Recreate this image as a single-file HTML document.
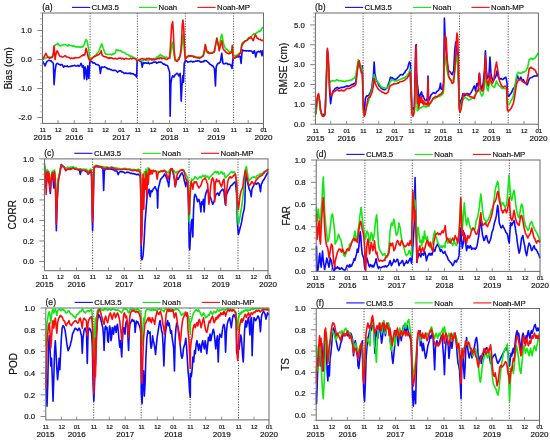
<!DOCTYPE html>
<html><head><meta charset="utf-8"><style>
html,body{margin:0;padding:0;background:#fff;}
svg{display:block;filter:blur(0.3px);}
text{font-family:"Liberation Sans", Arial, sans-serif;fill:#111;stroke:#111;stroke-width:0.18px;}
</style></head><body>
<svg width="550" height="441" viewBox="0 0 550 441">
<rect width="550" height="441" fill="#fff"/>
<g><line x1="90.1" y1="13" x2="90.1" y2="123.4" stroke="#333" stroke-width="0.9" stroke-dasharray="1.1,1.5"/><line x1="137.4" y1="13" x2="137.4" y2="123.4" stroke="#333" stroke-width="0.9" stroke-dasharray="1.1,1.5"/><line x1="185.4" y1="13" x2="185.4" y2="123.4" stroke="#333" stroke-width="0.9" stroke-dasharray="1.1,1.5"/><line x1="233.6" y1="13" x2="233.6" y2="123.4" stroke="#333" stroke-width="0.9" stroke-dasharray="1.1,1.5"/><polyline points="42.8,60.82 43.01,62.66 44.01,63.34 45.02,65.86 46.03,63.41 47.03,61.33 47.87,60.84 48.71,60.39 49.55,60.32 50.39,60.83 51.23,60.8 52.07,62.08 52.7,62.44 53.33,63.34 54.08,84.73 55.09,70.89 56.1,64.6 56.85,63.62 57.61,63.34 58.61,64.26 59.62,64.6 60.46,65.14 61.3,64.49 62.14,64.6 62.77,65.74 63.39,67.12 64.02,66.97 64.65,65.86 65.49,66.24 66.33,66.42 67.17,65.86 68.01,66.69 68.85,66.83 69.69,66.36 70.53,66.53 71.36,66.02 72.2,65.86 73.04,65.85 73.88,65.62 74.72,65.35 75.56,65.9 76.4,65.99 77.24,65.86 78.08,65.24 78.92,66.11 79.75,65.86 80.38,64.84 81.01,63.34 81.64,64.59 82.27,67.12 82.9,65.96 83.53,65.86 84.29,78.95 85.29,67.12 86.05,70.89 86.8,79.7 87.81,65.86 88.82,78.44 89.82,62.08 90.66,61.54 91.5,61.5 92.34,62.08 93.18,63.14 94.02,62.73 94.86,63.34 95.7,64.28 96.53,64.5 97.37,64.6 98.38,65 99.39,65.86 100.39,73.41 101.4,67.12 102.16,66.78 102.91,67.47 103.67,67.12 104.51,66.7 105.34,67.34 106.18,67.87 107.02,68.11 107.86,68.97 108.7,68.88 109.54,69.09 110.38,69.7 111.22,69.63 112.06,70.21 112.9,70.42 113.73,70.39 114.57,70.21 115.41,70.36 116.25,70.89 116.88,71.31 117.51,72.15 118.35,71.56 119.19,70.92 120.03,70.89 120.87,70.85 121.7,71.94 122.54,72.15 123.38,72.5 124.22,73.44 125.06,73.41 125.9,72.9 126.74,73.43 127.58,73.41 128.42,73.37 129.26,73.49 130.09,72.9 130.93,73.9 131.77,73.39 132.61,73.91 133.45,73.73 134.29,74.91 135.13,74.67 135.88,75.79 136.64,77.18 137.14,60.82 138.02,60.22 138.9,60.32 139.74,60.74 140.58,61.33 141.42,62.08 142.18,67.12 143.18,62.84 144.19,63.24 145.2,62.84 146.04,63.08 146.87,63.15 147.71,63.34 148.55,62.65 149.39,63.9 150.23,63.34 150.99,63.3 151.75,63.16 152.52,62.84 153.36,62.17 154.19,62.2 155.03,62.08 155.87,62.08 156.71,63.15 157.55,62.84 158.39,62.03 159.23,62.25 160.07,62.08 160.91,62.09 161.75,62.53 162.58,63.34 163.42,64.36 164.26,63.95 165.1,64.6 165.94,65.31 166.78,65.22 167.62,65.86 168.63,68.89 169.63,72.15 170.14,116.2 170.89,83.48 171.65,78.44 172.65,75.92 173.28,76.1 173.91,77.18 174.54,76.01 175.17,74.67 176.01,74.11 176.85,73.2 177.69,73.41 178.32,75.1 178.95,75.92 179.57,74.85 180.2,73.41 181.21,101.09 181.97,85.99 182.72,75.92 183.48,82.22 184.23,63.34 185.24,60.82 186.08,60.75 186.92,61.25 187.75,62.08 188.59,62.09 189.43,61.74 190.27,61.33 191.11,61.42 191.95,61.52 192.79,62.08 193.63,61.64 194.47,61.59 195.31,61.33 196.14,60.89 196.98,61.28 197.82,60.82 198.66,60.76 199.5,61.15 200.34,62.08 201.18,61.88 202.02,62.03 202.86,61.33 203.7,61.75 204.53,60.46 205.37,60.82 206.21,60.57 207.05,61.47 207.89,62.08 208.73,62.74 209.57,63.92 210.41,64.6 211.25,64.86 212.09,65.8 212.92,65.86 213.68,67.35 214.43,68.37 215.44,85.99 216.2,67.12 217.08,64.65 217.96,63.34 218.8,63.59 219.64,62.46 220.48,62.08 221.1,57.05 221.73,53.27 222.36,58.59 222.99,63.34 223.83,63.92 224.67,63.75 225.51,63.34 226.35,63.22 227.19,63.49 228.03,64.6 228.87,64.1 229.7,64.43 230.54,64.6 231.3,66.23 232.05,68.37 233.06,58.31 233.9,57.77 234.74,57.5 235.58,57.8 236.42,57.17 237.26,56.63 238.09,57.05 239.1,56.35 240.11,56.29 241.12,63.34 242.12,50.25 242.88,49.94 243.63,50.81 244.39,50.75 245.23,50.67 246.07,51.01 246.9,50.75 247.74,50.71 248.58,51.09 249.42,50.75 250.26,50.89 251.1,51.06 251.94,51.26 252.57,52.95 253.2,53.27 253.83,51.42 254.46,50.75 255.08,53.29 255.71,57.05 256.34,54.17 256.97,52.01 257.81,51.68 258.65,51.35 259.49,52.01 260.12,51.58 260.75,50.75 261.38,53.02 262.01,55.79 262.76,50.75 263.2,50.37 263.2,50.75" fill="none" stroke="#0a0aff" stroke-width="1.6" stroke-linejoin="round"/><polyline points="42.8,59.56 42.84,58.84 43.68,59.24 44.52,58.31 45.36,58.06 46.19,58.05 47.03,57.8 47.98,57.51 48.92,56.88 49.87,57.38 50.81,57.05 51.65,56.56 52.49,56.7 53.33,55.79 53.96,50.77 54.58,45.72 55.21,45.08 55.84,44.46 56.72,44.4 57.61,43.2 58.61,44.71 59.62,45.72 60.46,46.02 61.3,45.37 62.14,45.22 62.97,44.92 63.81,44.61 64.65,44.46 65.49,44.68 66.33,44.96 67.17,45.72 68.01,46.08 68.85,44.69 69.69,45.22 70.53,45.48 71.36,45.75 72.2,45.72 73.04,46.38 73.88,45.79 74.72,46.22 75.56,46.87 76.4,46.62 77.24,46.98 78.08,46.7 78.92,47.12 79.75,46.98 80.59,47.38 81.43,46.71 82.27,46.98 82.9,46.78 83.53,45.72 84.16,44.66 84.79,42.7 85.42,41 86.05,39.43 86.68,40.39 87.31,41.95 87.94,45.73 88.56,48.24 89.19,53.73 89.82,59.56 90.66,58.45 91.5,58.99 92.34,57.8 93.18,57.12 94.02,56.89 94.86,55.79 95.7,55.39 96.53,54.36 97.37,53.27 98.21,52.16 99.05,50.52 99.89,48.24 100.77,46.1 101.65,43.71 102.41,45.92 103.16,48.24 104.04,50.51 104.92,53.27 105.76,54.2 106.6,54.15 107.44,54.53 108.28,54.53 109.12,54.39 109.96,54.53 110.8,54.11 111.64,54.82 112.48,54.53 113.31,53.59 114.15,54.03 114.99,53.27 115.62,51.51 116.25,49.5 116.88,50.14 117.51,50.75 118.35,50.09 119.19,50.54 120.03,50.75 120.87,50.63 121.7,51.92 122.54,52.01 123.38,52.31 124.22,52.43 125.06,53.27 125.9,54 126.74,54.17 127.58,54.53 128.42,54.75 129.26,56.04 130.09,55.79 130.93,56.73 131.77,56.12 132.61,57.05 133.45,57.2 134.29,57.82 135.13,58.31 136.14,58.8 137.14,59.56 138.02,59.96 138.9,59.56 139.74,59.51 140.58,60.29 141.42,60.82 142.36,60.47 143.31,60.82 144.25,59.35 145.2,59.56 146.04,60.47 146.87,59.82 147.71,60.82 148.55,60.7 149.39,59.39 150.23,59.56 150.99,59.8 151.75,59.89 152.52,59.06 153.36,58.46 154.19,58.94 155.03,58.31 155.87,58.56 156.71,57.13 157.55,57.05 158.39,56.15 159.23,56.01 160.07,54.53 160.7,55.56 161.33,55.79 161.96,55.35 162.58,56.29 163.42,56.56 164.26,57.02 165.1,57.05 165.94,57.61 166.78,56.97 167.62,57.8 168.63,58.2 169.63,58.31 170.64,53.27 171.39,48.02 172.15,41.95 173.16,48.24 174.16,55.79 175.17,60.82 175.8,60.45 176.43,60.82 177.06,59.98 177.69,59.56 178.69,57.64 179.7,57.05 180.58,54.03 181.46,50.75 182.09,44.16 182.72,36.91 183.48,34.39 184.23,48.24 185.24,58.31 186.08,57.95 186.92,56.83 187.75,57.05 188.59,56.65 189.43,56.04 190.27,55.79 191.11,56.14 191.95,55.5 192.79,56.29 193.63,57.11 194.47,57.29 195.31,57.05 196.14,57.02 196.98,56.94 197.82,57.8 198.66,56.92 199.5,57.2 200.34,57.05 201.18,57.08 202.02,56.4 202.86,56.29 203.49,55.21 204.12,53.27 204.74,50.02 205.37,45.72 206,48.71 206.63,52.01 207.26,52.31 207.89,53.27 208.73,52.81 209.57,53.4 210.41,53.27 211.25,53.19 212.09,52.39 212.92,52.77 213.93,52.32 214.94,50.75 215.82,44.23 216.7,38.17 217.33,40.87 217.96,43.2 218.59,45.92 219.22,48.24 219.85,43.48 220.48,39.43 221.1,36.83 221.73,34.39 222.36,36.87 222.99,40.69 223.62,43.39 224.25,45.72 224.88,47.37 225.51,48.24 226.35,49.33 227.19,49.41 228.03,50.75 228.87,51.3 229.7,51.55 230.54,52.01 231.17,51.17 231.8,50.75 232.56,45.22 233.06,55.79 233.9,55.35 234.74,55.41 235.58,55.79 236.42,55.18 237.26,54.93 238.09,54.53 238.93,53.3 239.77,53.12 240.61,52.01 241.24,47.04 241.87,43.2 242.5,43.12 243.13,41.95 243.97,41.99 244.81,41.61 245.65,40.69 246.48,40.49 247.32,39.32 248.16,38.17 249,37.44 249.84,37.34 250.68,36.91 251.52,36.44 252.36,35.14 253.2,34.39 254.04,33.48 254.87,33.87 255.71,33.64 256.55,32.76 257.39,32.24 258.23,31.88 259.07,30.96 259.91,31.43 260.75,30.62 261.63,28.81 262.51,27.6 263.2,27.29 263.2,28.1" fill="none" stroke="#10e810" stroke-width="1.6" stroke-linejoin="round"/><polyline points="42.8,59.56 43.01,57.72 44.01,57.05 44.89,55.52 45.78,53.27 46.66,54.95 47.54,57.05 48.54,57.43 49.55,58.31 50.39,57.83 51.23,57.77 52.07,57.8 52.7,56.17 53.33,53.27 54.08,45.72 55.09,59.56 55.84,54.53 56.47,52.26 57.1,50.75 57.73,51.97 58.36,53.27 58.99,54.89 59.62,55.79 60.46,56.54 61.3,56.28 62.14,57.05 62.97,56.96 63.81,56.58 64.65,55.79 65.49,55.74 66.33,56.93 67.17,57.05 68.01,57.24 68.85,57.51 69.69,57.8 70.53,58.58 71.36,58.07 72.2,58.31 73.04,58.5 73.88,57.88 74.72,58.31 75.56,57.45 76.4,57.77 77.24,57.8 78.08,57.78 78.92,57.74 79.75,57.05 80.59,56.68 81.43,55.75 82.27,55.79 83.11,54.69 83.95,55.52 84.79,54.53 85.42,51.63 86.05,48.24 86.68,50.18 87.31,53.27 87.94,56.08 88.56,58.31 89.19,59.48 89.82,60.82 90.66,60.59 91.5,58.58 92.34,58.31 93.18,57.33 94.02,56.63 94.86,56.29 95.7,56.24 96.53,55.02 97.37,55.29 98.21,54.84 99.05,54.39 99.89,53.27 100.52,52.64 101.15,50.75 101.78,53.58 102.41,55.79 103.25,56.06 104.09,56.46 104.92,57.05 105.76,56.62 106.6,57.21 107.44,57.8 108.28,58.21 109.12,57.49 109.96,58.31 110.8,57.7 111.64,57.85 112.48,58.31 113.31,58.74 114.15,58.72 114.99,58.31 115.83,58.58 116.67,58.96 117.51,59.06 118.35,58.36 119.19,57.95 120.03,58.31 120.87,57.97 121.7,58.86 122.54,58.31 123.38,58.73 124.22,59.32 125.06,58.81 125.9,58.36 126.74,58.72 127.58,58.81 128.42,59.06 129.26,59 130.09,58.31 130.93,58.28 131.77,58.93 132.61,58.31 133.45,58.24 134.29,58.37 135.13,58.81 136.14,59.48 137.14,60.82 138.15,60.55 139.16,60.03 140.16,59.56 141,58.96 141.84,58.61 142.68,58.81 143.52,58.87 144.36,59.46 145.2,59.31 146.04,59.6 146.87,58.35 147.71,58.81 148.55,58.42 149.39,58.48 150.23,59.06 151.19,58.82 152.15,59.84 153.11,58.99 154.07,60.1 155.03,59.56 155.87,59.14 156.71,58.83 157.55,58.81 158.39,57.97 159.23,58.76 160.07,57.8 160.91,57.53 161.75,58.65 162.58,58.31 163.42,58.26 164.26,58.4 165.1,58.81 165.94,59.17 166.78,59.47 167.62,59.06 168.63,58.25 169.63,57.8 170.64,43.2 171.65,25.58 172.65,21.81 173.41,33.14 174.16,50.75 175.17,59.56 175.8,60.21 176.43,60.82 177.06,61.41 177.69,60.82 178.32,59.58 178.95,59.56 179.57,57.11 180.2,55.79 180.83,49.97 181.46,43.2 182.22,25.58 182.97,20.05 183.73,28.1 184.73,50.75 185.24,59.56 186.08,58.1 186.92,57.06 187.75,56.29 188.59,55.61 189.43,56.25 190.27,55.79 191.11,56.18 191.95,56.04 192.79,56.29 193.63,56.73 194.47,56.31 195.31,57.05 196.14,57.71 196.98,57.56 197.82,57.8 198.66,58.11 199.5,58.43 200.34,57.8 201.18,57.49 202.02,56.63 202.86,55.79 203.49,54.5 204.12,52.01 204.74,48.38 205.37,44.46 206,47.68 206.63,50.75 207.47,51.87 208.31,51.8 209.15,53.27 209.99,52.75 210.83,53.54 211.67,53.27 212.51,53.15 213.34,51.94 214.18,52.01 215.06,47.15 215.95,43.2 216.95,38.17 217.96,43.2 218.59,46.79 219.22,50.75 219.85,48.36 220.48,45.72 221.1,43.17 221.73,40.69 222.36,44.14 222.99,48.24 223.83,49.88 224.67,50.48 225.51,52.01 226.35,52.22 227.19,53.12 228.03,53.27 228.87,53.91 229.7,52.81 230.54,53.27 231.17,52.59 231.8,52.01 232.31,45.72 233.06,58.31 233.9,58.25 234.74,57.44 235.58,57.05 236.42,56.82 237.26,55.71 238.09,55.79 238.93,55.28 239.77,53.55 240.61,53.27 241.24,49.38 241.87,45.72 242.5,44.82 243.13,43.2 243.97,42.75 244.81,40.94 245.65,40.69 246.48,40.63 247.32,40.07 248.16,39.43 249,38.13 249.84,38.26 250.68,36.91 251.52,38.1 252.36,39.11 253.2,40.69 254.2,37.65 255.21,34.39 256.09,35.86 256.97,38.17 257.81,38.29 258.65,39.21 259.49,39.43 260.33,39.15 261.17,40.2 262.01,40.69 263.01,40.09 263.2,40.69" fill="none" stroke="#ff0a0a" stroke-width="1.6" stroke-linejoin="round"/><rect x="42.5" y="13" width="221" height="110.4" fill="none" stroke="#6a6a6a" stroke-width="1"/><line x1="39.9" y1="123.4" x2="42.5" y2="123.4" stroke="#9a9a9a" stroke-width="0.75"/><line x1="37.3" y1="117.59" x2="42.5" y2="117.59" stroke="#808080" stroke-width="1.0"/><line x1="39.9" y1="111.78" x2="42.5" y2="111.78" stroke="#9a9a9a" stroke-width="0.75"/><line x1="39.9" y1="105.97" x2="42.5" y2="105.97" stroke="#9a9a9a" stroke-width="0.75"/><line x1="39.9" y1="100.16" x2="42.5" y2="100.16" stroke="#9a9a9a" stroke-width="0.75"/><line x1="39.9" y1="94.35" x2="42.5" y2="94.35" stroke="#9a9a9a" stroke-width="0.75"/><line x1="37.3" y1="88.54" x2="42.5" y2="88.54" stroke="#808080" stroke-width="1.0"/><line x1="39.9" y1="82.73" x2="42.5" y2="82.73" stroke="#9a9a9a" stroke-width="0.75"/><line x1="39.9" y1="76.92" x2="42.5" y2="76.92" stroke="#9a9a9a" stroke-width="0.75"/><line x1="39.9" y1="71.11" x2="42.5" y2="71.11" stroke="#9a9a9a" stroke-width="0.75"/><line x1="39.9" y1="65.29" x2="42.5" y2="65.29" stroke="#9a9a9a" stroke-width="0.75"/><line x1="37.3" y1="59.48" x2="42.5" y2="59.48" stroke="#808080" stroke-width="1.0"/><line x1="39.9" y1="53.67" x2="42.5" y2="53.67" stroke="#9a9a9a" stroke-width="0.75"/><line x1="39.9" y1="47.86" x2="42.5" y2="47.86" stroke="#9a9a9a" stroke-width="0.75"/><line x1="39.9" y1="42.05" x2="42.5" y2="42.05" stroke="#9a9a9a" stroke-width="0.75"/><line x1="39.9" y1="36.24" x2="42.5" y2="36.24" stroke="#9a9a9a" stroke-width="0.75"/><line x1="37.3" y1="30.43" x2="42.5" y2="30.43" stroke="#808080" stroke-width="1.0"/><line x1="39.9" y1="24.62" x2="42.5" y2="24.62" stroke="#9a9a9a" stroke-width="0.75"/><line x1="39.9" y1="18.81" x2="42.5" y2="18.81" stroke="#9a9a9a" stroke-width="0.75"/><line x1="39.9" y1="13" x2="42.5" y2="13" stroke="#9a9a9a" stroke-width="0.75"/><text x="31.9" y="120.39" text-anchor="end" font-size="7.8">-2.0</text><text x="31.9" y="91.34" text-anchor="end" font-size="7.8">-1.0</text><text x="31.9" y="62.28" text-anchor="end" font-size="7.8">0.0</text><text x="31.9" y="33.23" text-anchor="end" font-size="7.8">1.0</text><line x1="263.5" y1="123.4" x2="263.5" y2="128.9" stroke="#6a6a6a" stroke-width="1"/><line x1="58" y1="120.1" x2="58" y2="123.4" stroke="#808080" stroke-width="0.9"/><line x1="105.3" y1="120.1" x2="105.3" y2="123.4" stroke="#808080" stroke-width="0.9"/><line x1="153" y1="120.1" x2="153" y2="123.4" stroke="#808080" stroke-width="0.9"/><line x1="200.7" y1="120.1" x2="200.7" y2="123.4" stroke="#808080" stroke-width="0.9"/><line x1="248.2" y1="120.1" x2="248.2" y2="123.4" stroke="#808080" stroke-width="0.9"/><line x1="74.3" y1="120.1" x2="74.3" y2="123.4" stroke="#808080" stroke-width="0.9"/><line x1="121.2" y1="120.1" x2="121.2" y2="123.4" stroke="#808080" stroke-width="0.9"/><line x1="169.5" y1="120.1" x2="169.5" y2="123.4" stroke="#808080" stroke-width="0.9"/><line x1="216.3" y1="120.1" x2="216.3" y2="123.4" stroke="#808080" stroke-width="0.9"/><text x="42.8" y="132" text-anchor="middle" font-size="5.9">11</text><text x="58.3" y="132" text-anchor="middle" font-size="5.9">12</text><text x="74.6" y="132" text-anchor="middle" font-size="5.9">01</text><text x="90.4" y="132" text-anchor="middle" font-size="5.9">11</text><text x="105.6" y="132" text-anchor="middle" font-size="5.9">12</text><text x="121.5" y="132" text-anchor="middle" font-size="5.9">01</text><text x="137.7" y="132" text-anchor="middle" font-size="5.9">11</text><text x="153.3" y="132" text-anchor="middle" font-size="5.9">12</text><text x="169.8" y="132" text-anchor="middle" font-size="5.9">01</text><text x="185.7" y="132" text-anchor="middle" font-size="5.9">11</text><text x="201" y="132" text-anchor="middle" font-size="5.9">12</text><text x="216.6" y="132" text-anchor="middle" font-size="5.9">01</text><text x="233.9" y="132" text-anchor="middle" font-size="5.9">11</text><text x="248.5" y="132" text-anchor="middle" font-size="5.9">12</text><text x="263.8" y="132" text-anchor="middle" font-size="5.9">01</text><text x="42.5" y="140.1" text-anchor="middle" font-size="8.1">2015</text><text x="74.3" y="140.1" text-anchor="middle" font-size="8.1">2016</text><text x="121.2" y="140.1" text-anchor="middle" font-size="8.1">2017</text><text x="169.5" y="140.1" text-anchor="middle" font-size="8.1">2018</text><text x="216.3" y="140.1" text-anchor="middle" font-size="8.1">2019</text><text x="263.5" y="140.1" text-anchor="middle" font-size="8.1">2020</text><text transform="translate(12,68.2) rotate(-90)" text-anchor="middle" font-size="10">Bias (cm)</text><text x="42.2" y="10.4" font-size="8.6">(a)</text><line x1="72" y1="7.4" x2="90.2" y2="7.4" stroke="#0a0aff" stroke-width="1.1"/><text x="91.6" y="10.3" font-size="7.8">CLM3.5</text><line x1="138.9" y1="7.4" x2="157.1" y2="7.4" stroke="#10e810" stroke-width="1.1"/><text x="158.5" y="10.3" font-size="7.8">Noah</text><line x1="197.4" y1="7.4" x2="215.6" y2="7.4" stroke="#ff0a0a" stroke-width="1.1"/><text x="217" y="10.3" font-size="7.8">Noah-MP</text></g>
<g><line x1="363.1" y1="13" x2="363.1" y2="124.2" stroke="#333" stroke-width="0.9" stroke-dasharray="1.1,1.5"/><line x1="411.1" y1="13" x2="411.1" y2="124.2" stroke="#333" stroke-width="0.9" stroke-dasharray="1.1,1.5"/><line x1="459.5" y1="13" x2="459.5" y2="124.2" stroke="#333" stroke-width="0.9" stroke-dasharray="1.1,1.5"/><line x1="508.2" y1="13" x2="508.2" y2="124.2" stroke="#333" stroke-width="0.9" stroke-dasharray="1.1,1.5"/><polyline points="315.7,113.68 315.7,110.83 316.26,108.65 316.89,102.74 317.52,97.32 318.52,94.8 319.53,101.09 320.54,109.9 321.54,113.68 322.55,114.94 323.18,114.6 323.81,114.94 324.44,113.96 325.07,112.42 326.07,91.03 326.83,65.86 327.33,50.75 328.09,55.79 328.84,73.41 329.6,91.03 330.61,103.61 331.61,96.06 332.37,94 333.12,91.03 334.13,90.01 335.14,88.51 336.14,88.11 337.15,87.25 338.03,88.09 338.91,88.51 339.75,87.98 340.59,87.7 341.43,87.25 342.27,87.59 343.11,87.34 343.95,87.25 344.78,86.83 345.62,86.41 346.46,85.99 347.3,85.8 348.14,86.43 348.98,85.99 349.82,85.92 350.66,85.15 351.5,84.73 352.34,84.19 353.17,84.39 354.01,83.48 354.89,83.34 355.78,82.22 356.78,73.41 357.54,67.59 358.29,62.08 359.3,64.6 360.31,67.12 360.94,68.54 361.56,69.63 362.32,65.86 363.33,103.61 364.33,113.68 365.34,98.58 365.97,97.05 366.6,96.06 367.23,95.72 367.86,96.06 368.86,95.01 369.87,93.54 370.75,91.26 371.63,88.51 372.51,81.77 373.39,75.92 374.15,62.08 374.9,73.41 375.79,77.64 376.67,80.96 377.51,82.23 378.34,84.08 379.18,85.99 380.02,86.6 380.86,87.93 381.7,88.51 382.54,89.28 383.38,89.42 384.22,89.77 385.06,89.63 385.9,88.62 386.73,88.51 387.57,86.87 388.41,83.88 389.25,82.22 389.88,79.35 390.51,77.18 391.35,78.04 392.19,77.67 393.03,78.44 393.87,78.87 394.7,79.77 395.54,79.7 396.38,78.52 397.22,78.36 398.06,77.18 398.9,76.57 399.74,75.54 400.58,74.67 401.42,74.48 402.26,74.87 403.09,74.67 403.93,73.23 404.77,72.57 405.61,70.89 406.62,69.74 407.63,68.37 408.51,64.76 409.39,62.08 410.39,63.34 411.15,83.48 411.9,106.13 412.53,108.03 413.16,109.9 413.79,108.25 414.42,106.13 415.05,75.44 415.68,45.72 416.18,44.46 416.53,71.61 417.26,83.22 417.98,89.03 418.71,96.28 419.43,100.64 420.16,94.83 420.89,93.38 421.61,91.93 422.34,96.28 423.06,95.56 423.79,97.74 424.51,99.19 425.24,100.38 425.97,100.64 426.69,99.64 427.42,97.74 428,75.97 428.58,100.64 429.59,99.19 430.32,97.04 431.04,94.83 431.77,94.27 432.5,93.38 433.22,92.72 433.95,92.66 434.67,93.31 435.4,93.38 436.12,92.77 436.85,91.2 437.58,91.16 438.3,90.48 439.03,89.32 439.75,87.58 440.48,83.22 441.2,89.03 441.93,89.14 442.66,89.75 443.67,81.77 444.39,18.03 445.14,38.17 446.15,50.75 447.16,63.34 447.91,66.89 448.67,70.89 449.55,71.43 450.43,72.15 451.31,73.57 452.19,74.67 452.95,72.33 453.7,70.89 454.71,50.75 455.71,41.95 456.72,48.24 457.73,63.34 458.73,88.51 459.49,108.65 460.5,101.09 461.13,99.94 461.75,98.58 462.38,96.29 463.01,93.54 463.64,94.98 464.27,96.06 465.11,95.49 465.95,94.64 466.79,93.54 467.63,93.65 468.47,94.18 469.31,94.8 470.14,93.87 470.98,92.58 471.82,91.03 472.45,89.78 473.08,88.51 473.71,86.97 474.34,85.99 474.97,88.55 475.6,91.03 476.23,86.99 476.86,83.48 477.49,85.04 478.12,85.99 478.74,79.61 479.37,73.41 480,79.68 480.63,85.99 481.26,86.89 481.89,88.51 482.52,85.58 483.15,83.48 483.78,76.97 484.41,70.89 485.41,50.75 486.42,70.89 487.43,78.44 488.18,76.9 488.94,75.92 489.95,57.05 490.95,73.41 491.96,78.44 492.71,80.16 493.47,80.96 494.48,78.44 495.23,77.64 495.99,75.92 496.99,70.89 498,75.92 498.75,78.06 499.51,79.7 500.26,78.96 501.02,78.44 501.77,78.97 502.53,79.7 503.29,79.18 504.04,78.44 504.92,77.6 505.8,77.18 506.43,80.02 507.06,83.48 507.82,96.06 508.45,96.18 509.07,96.06 509.96,94.34 510.84,93.54 511.68,92.3 512.51,89.97 513.35,88.51 514.23,87.7 515.12,85.99 515.87,82.1 516.63,78.44 517.63,75.92 518.39,78.3 519.14,79.7 520.02,78.52 520.9,77.18 521.53,78.67 522.16,80.96 522.79,80.63 523.42,79.7 524.05,81.17 524.68,82.22 525.31,82.89 525.94,83.48 526.57,84.37 527.2,84.73 527.83,82.99 528.46,80.96 529.08,79.49 529.71,78.44 530.55,77.75 531.39,77.54 532.23,77.18 533.07,76.54 533.91,76.12 534.75,75.92 535.59,76.01 536.43,75.66 537.26,75.92 538.1,75.01 538.1,74.67" fill="none" stroke="#0a0aff" stroke-width="1.6" stroke-linejoin="round"/><polyline points="315.7,114.94 315.7,112.98 316.26,111.16 316.89,104.51 317.52,98.58 318.52,96.06 319.53,102.35 320.54,111.16 321.54,114.94 322.55,116.2 323.18,116.45 323.81,116.2 324.44,115.28 325.07,114.94 326.07,93.54 326.83,68.37 327.33,53.27 328.09,58.31 328.84,73.41 329.6,83.48 330.61,80.96 331.61,80.96 332.37,81 333.12,80.46 334.13,80.98 335.14,80.96 336.14,80.22 337.15,79.7 338.03,80.33 338.91,80.96 339.75,80.69 340.59,80.47 341.43,80.96 342.27,81.16 343.11,80.96 343.95,81.46 344.78,81.69 345.62,81.08 346.46,80.96 347.3,80.49 348.14,80.7 348.98,80.46 349.82,80.26 350.66,80.23 351.5,79.7 352.34,79.73 353.17,78.47 354.01,78.44 354.89,77.16 355.78,75.92 356.78,68.37 357.54,63.65 358.29,59.56 359.3,62.08 360.31,65.86 360.94,66.14 361.56,67.12 362.32,70.89 363.33,111.16 364.33,116.2 365.34,111.16 365.97,108.64 366.6,106.13 367.23,104.96 367.86,103.61 368.86,100.02 369.87,96.06 370.75,93.64 371.63,91.03 372.51,86.16 373.39,80.96 374.15,74.67 374.78,76.72 375.41,78.44 376.25,80.17 377.09,80.75 377.92,82.22 378.76,83.38 379.6,84.4 380.44,85.99 381.28,86.81 382.12,87.32 382.96,87.25 383.8,88.1 384.64,87.71 385.48,88.51 386.31,87.89 387.15,87.21 387.99,87.25 389,84.96 390.01,82.22 390.89,80.91 391.77,79.7 392.61,79.78 393.45,80.37 394.29,80.96 395.12,81.07 395.96,80.87 396.8,80.96 397.64,80.5 398.48,80.3 399.32,79.7 400.16,79.4 401,78.83 401.84,78.95 402.68,78.69 403.51,77.88 404.35,77.94 405.19,77.19 406.03,76.55 406.87,75.92 407.75,74.39 408.63,73.41 409.39,71.22 410.14,69.63 411.15,96.06 411.9,111.16 412.53,112.67 413.16,114.94 413.79,114 414.42,113.68 415.05,99.77 415.68,85.99 416.18,70.89 416.53,81.77 417.26,110.8 417.98,110.35 418.71,109.35 419.43,108.72 420.16,107.9 420.89,107.84 421.61,107.17 422.34,106.75 423.06,106.44 423.79,106.37 424.51,106.44 425.24,106.37 425.97,107.17 426.69,106.56 427.42,106.44 428.14,106.14 428.87,106.44 429.59,104.68 430.32,103.54 431.04,102.02 431.77,100.64 432.5,99.7 433.22,99.19 433.95,98.84 434.67,98.46 435.4,98.38 436.12,97.74 436.85,97.08 437.58,97.01 438.3,96.69 439.03,96.28 439.75,96.33 440.48,95.56 441.2,95.51 441.93,94.83 442.66,94.03 443.38,93.38 443.96,86.12 444.14,68.37 445.14,55.79 446.15,63.34 447.16,70.89 447.91,74.39 448.67,77.18 449.55,78.49 450.43,79.7 451.31,80.45 452.19,80.96 452.95,80.12 453.7,78.44 454.46,73.34 455.21,68.37 456.22,58.31 456.97,55.79 457.73,60.82 458.48,80.96 459.24,106.13 459.87,107.06 460.5,108.65 461.13,104.8 461.75,101.09 462.38,100.9 463.01,99.84 463.64,99.06 464.27,97.32 465.11,97.66 465.95,97.72 466.79,98.58 467.63,98.77 468.47,99.9 469.31,99.84 470.14,99.62 470.98,99.01 471.82,98.58 472.66,97.71 473.5,97.11 474.34,96.06 474.97,95.07 475.6,93.54 476.23,92.51 476.86,92.29 477.7,91.2 478.53,89.62 479.37,88.51 480,91.02 480.63,93.54 481.26,94.91 481.89,96.06 482.52,95.3 483.15,93.54 483.78,89.95 484.41,85.99 485.04,79.58 485.67,73.41 486.3,81.42 486.92,88.51 487.55,89.5 488.18,91.03 489.06,85.2 489.95,78.44 490.95,83.48 491.71,85.21 492.46,85.99 493.47,86.71 494.48,87.25 495.48,84.21 496.49,80.96 497.5,83.48 498.5,84.94 499.51,85.99 500.35,86.69 501.19,87.46 502.03,88.51 502.87,88.09 503.7,88.41 504.54,88.51 505.55,88.53 506.56,88.51 507.31,103.61 507.94,103.88 508.57,104.87 509.33,103.88 510.08,102.54 510.84,101.09 511.68,99.7 512.51,97.93 513.35,96.06 514.23,90.76 515.12,85.99 515.87,80.8 516.63,74.67 517.51,73.59 518.39,72.15 519.23,72.91 520.07,73.01 520.9,73.41 521.74,72.99 522.58,72.12 523.42,72.15 524.26,71.99 525.1,71.41 525.94,70.89 526.82,68.86 527.7,67.12 528.46,63.36 529.21,59.56 530.09,59.19 530.97,58.31 531.85,58.52 532.73,59.56 533.74,58.63 534.75,58.31 535.59,57.2 536.43,56.09 537.26,54.53 538.1,53.95 538.1,52.77" fill="none" stroke="#10e810" stroke-width="1.6" stroke-linejoin="round"/><polyline points="315.7,113.68 315.7,109.91 316.26,106.13 316.89,100.68 317.52,96.06 318.52,93.54 319.53,99.84 320.54,109.9 321.54,113.68 322.55,116.2 323.18,115.9 323.81,116.2 324.44,114.9 325.07,113.68 326.07,88.51 326.83,63.34 327.33,48.24 328.09,53.27 328.84,70.89 329.6,85.99 330.61,96.06 331.61,94.8 332.37,93.27 333.12,92.29 334.13,91.54 335.14,91.03 336.14,90.2 337.15,89.77 338.03,90.04 338.91,91.03 339.75,90.62 340.59,90.47 341.43,89.77 342.27,90.63 343.11,90.51 343.95,91.03 344.78,90.26 345.62,89.75 346.46,88.51 347.3,88.19 348.14,88.37 348.98,88.51 349.82,88.39 350.66,88 351.5,87.25 352.34,86.34 353.17,86.48 354.01,85.99 354.89,85.35 355.78,84.73 356.78,75.92 357.54,69.58 358.29,63.34 359.3,60.82 360.31,68.37 360.94,71.37 361.56,73.41 362.32,72.15 363.33,108.65 364.33,116.2 365.34,113.68 365.97,109.62 366.6,106.13 367.23,102.55 367.86,98.58 368.86,97.46 369.87,97.32 370.75,95.34 371.63,93.54 372.51,90.18 373.39,85.99 374.15,78.44 374.78,81.35 375.41,83.48 376.25,85.65 377.09,87.16 377.92,88.51 378.76,89.77 379.6,90.04 380.44,91.03 381.28,91.22 382.12,92.19 382.96,92.29 383.8,92.64 384.64,93.44 385.48,93.54 386.31,93.62 387.15,92.7 387.99,92.29 389,89.21 390.01,85.99 390.89,85.56 391.77,84.73 392.61,84.63 393.45,84 394.29,83.48 395.12,83.93 395.96,83.67 396.8,83.48 397.64,82.91 398.48,83.11 399.32,82.22 400.16,81.71 401,81.49 401.84,81.46 402.68,81.18 403.51,80.83 404.35,80.46 405.19,79.82 406.03,78.76 406.87,78.44 407.75,76.98 408.63,75.92 409.39,73.79 410.14,72.15 411.15,96.06 411.9,113.68 412.53,115.23 413.16,116.2 413.79,112.34 414.42,108.65 415.05,83.37 415.68,58.31 416.18,45.72 416.53,74.51 416.97,89.03 417.55,103.54 418.13,96.28 418.71,107.9 419.43,103.54 420.16,97.74 420.89,102.09 421.61,96.28 422.34,103.54 423.06,100.64 423.79,104.99 424.51,102.09 425.24,103.54 425.97,104.99 426.69,103.54 427.42,104.99 428,78.87 428.58,104.99 429.59,103.54 430.32,103.24 431.04,102.09 431.77,101.08 432.5,99.19 433.22,98.05 433.95,97.74 434.67,97.07 435.4,96.28 436.12,96.71 436.85,97.01 437.58,96.08 438.3,95.56 439.03,94.88 439.75,94.83 440.48,94.03 441.2,94.11 441.93,92.53 442.66,91.93 443.67,81.77 444.14,63.34 445.14,35.65 446.15,38.17 447.16,58.31 447.91,67.37 448.67,75.92 449.55,78.14 450.43,79.7 451.31,81.25 452.19,83.48 452.95,83.03 453.7,82.22 454.46,72.76 455.21,63.34 456.22,43.2 456.97,33.14 457.73,38.17 458.48,63.34 459.24,108.65 459.99,112.42 460.62,110.22 461.25,108.65 462.13,102.64 463.01,96.06 463.64,94.81 464.27,93.54 465.11,94.26 465.95,94.12 466.79,94.8 467.63,95.56 468.47,95.55 469.31,96.06 470.14,96.83 470.98,96.44 471.82,97.32 472.66,97.41 473.5,98.03 474.34,98.58 475.18,95.58 476.02,93.75 476.86,91.03 477.49,90.78 478.12,91.03 478.74,81.86 479.37,73.41 480,81.4 480.63,88.51 481.26,89.47 481.89,91.03 482.52,90.8 483.15,89.77 483.78,83.33 484.41,75.92 485.41,55.79 486.42,78.44 487.3,82.43 488.18,85.99 489.06,79.84 489.95,73.41 490.95,80.96 491.71,82.21 492.46,83.48 493.22,81.32 493.97,78.44 494.73,72.46 495.48,67.12 496.49,62.08 497.5,68.37 498.5,74.56 499.51,80.96 500.52,83.26 501.52,85.99 502.4,86.26 503.29,87.25 504.17,86.66 505.05,85.99 505.8,86.66 506.56,87.25 507.31,109.9 507.94,110.87 508.57,111.16 509.33,110.31 510.08,109.61 510.84,108.65 511.68,107.22 512.51,105.13 513.35,103.61 514.23,98.88 515.12,93.54 515.87,88.41 516.63,83.48 517.51,81.99 518.39,79.7 519.23,80.09 520.07,79.69 520.9,79.7 521.74,80.47 522.58,81.54 523.42,82.22 524.26,82.51 525.1,83.17 525.94,83.48 526.82,80.97 527.7,78.44 528.46,73.67 529.21,68.37 530.09,68.16 530.97,67.12 531.85,68.22 532.73,68.37 533.74,69.42 534.75,69.63 535.59,70.92 536.43,73.13 537.26,74.67 538.1,74.25 538.1,73.41" fill="none" stroke="#ff0a0a" stroke-width="1.6" stroke-linejoin="round"/><rect x="315.4" y="13" width="223" height="111.2" fill="none" stroke="#6a6a6a" stroke-width="1"/><line x1="310.2" y1="124.2" x2="315.4" y2="124.2" stroke="#808080" stroke-width="1.0"/><line x1="312.8" y1="120.23" x2="315.4" y2="120.23" stroke="#9a9a9a" stroke-width="0.75"/><line x1="312.8" y1="116.26" x2="315.4" y2="116.26" stroke="#9a9a9a" stroke-width="0.75"/><line x1="312.8" y1="112.29" x2="315.4" y2="112.29" stroke="#9a9a9a" stroke-width="0.75"/><line x1="312.8" y1="108.31" x2="315.4" y2="108.31" stroke="#9a9a9a" stroke-width="0.75"/><line x1="310.2" y1="104.34" x2="315.4" y2="104.34" stroke="#808080" stroke-width="1.0"/><line x1="312.8" y1="100.37" x2="315.4" y2="100.37" stroke="#9a9a9a" stroke-width="0.75"/><line x1="312.8" y1="96.4" x2="315.4" y2="96.4" stroke="#9a9a9a" stroke-width="0.75"/><line x1="312.8" y1="92.43" x2="315.4" y2="92.43" stroke="#9a9a9a" stroke-width="0.75"/><line x1="312.8" y1="88.46" x2="315.4" y2="88.46" stroke="#9a9a9a" stroke-width="0.75"/><line x1="310.2" y1="84.49" x2="315.4" y2="84.49" stroke="#808080" stroke-width="1.0"/><line x1="312.8" y1="80.51" x2="315.4" y2="80.51" stroke="#9a9a9a" stroke-width="0.75"/><line x1="312.8" y1="76.54" x2="315.4" y2="76.54" stroke="#9a9a9a" stroke-width="0.75"/><line x1="312.8" y1="72.57" x2="315.4" y2="72.57" stroke="#9a9a9a" stroke-width="0.75"/><line x1="312.8" y1="68.6" x2="315.4" y2="68.6" stroke="#9a9a9a" stroke-width="0.75"/><line x1="310.2" y1="64.63" x2="315.4" y2="64.63" stroke="#808080" stroke-width="1.0"/><line x1="312.8" y1="60.66" x2="315.4" y2="60.66" stroke="#9a9a9a" stroke-width="0.75"/><line x1="312.8" y1="56.69" x2="315.4" y2="56.69" stroke="#9a9a9a" stroke-width="0.75"/><line x1="312.8" y1="52.71" x2="315.4" y2="52.71" stroke="#9a9a9a" stroke-width="0.75"/><line x1="312.8" y1="48.74" x2="315.4" y2="48.74" stroke="#9a9a9a" stroke-width="0.75"/><line x1="310.2" y1="44.77" x2="315.4" y2="44.77" stroke="#808080" stroke-width="1.0"/><line x1="312.8" y1="40.8" x2="315.4" y2="40.8" stroke="#9a9a9a" stroke-width="0.75"/><line x1="312.8" y1="36.83" x2="315.4" y2="36.83" stroke="#9a9a9a" stroke-width="0.75"/><line x1="312.8" y1="32.86" x2="315.4" y2="32.86" stroke="#9a9a9a" stroke-width="0.75"/><line x1="312.8" y1="28.89" x2="315.4" y2="28.89" stroke="#9a9a9a" stroke-width="0.75"/><line x1="310.2" y1="24.91" x2="315.4" y2="24.91" stroke="#808080" stroke-width="1.0"/><line x1="312.8" y1="20.94" x2="315.4" y2="20.94" stroke="#9a9a9a" stroke-width="0.75"/><line x1="312.8" y1="16.97" x2="315.4" y2="16.97" stroke="#9a9a9a" stroke-width="0.75"/><line x1="312.8" y1="13" x2="315.4" y2="13" stroke="#9a9a9a" stroke-width="0.75"/><text x="304.8" y="127" text-anchor="end" font-size="7.8">0.0</text><text x="304.8" y="107.14" text-anchor="end" font-size="7.8">1.0</text><text x="304.8" y="87.29" text-anchor="end" font-size="7.8">2.0</text><text x="304.8" y="67.43" text-anchor="end" font-size="7.8">3.0</text><text x="304.8" y="47.57" text-anchor="end" font-size="7.8">4.0</text><text x="304.8" y="27.71" text-anchor="end" font-size="7.8">5.0</text><line x1="538.4" y1="124.2" x2="538.4" y2="129.7" stroke="#6a6a6a" stroke-width="1"/><line x1="330.7" y1="120.9" x2="330.7" y2="124.2" stroke="#808080" stroke-width="0.9"/><line x1="378.7" y1="120.9" x2="378.7" y2="124.2" stroke="#808080" stroke-width="0.9"/><line x1="427.3" y1="120.9" x2="427.3" y2="124.2" stroke="#808080" stroke-width="0.9"/><line x1="475.1" y1="120.9" x2="475.1" y2="124.2" stroke="#808080" stroke-width="0.9"/><line x1="524" y1="120.9" x2="524" y2="124.2" stroke="#808080" stroke-width="0.9"/><line x1="346.6" y1="120.9" x2="346.6" y2="124.2" stroke="#808080" stroke-width="0.9"/><line x1="394.5" y1="120.9" x2="394.5" y2="124.2" stroke="#808080" stroke-width="0.9"/><line x1="442.9" y1="120.9" x2="442.9" y2="124.2" stroke="#808080" stroke-width="0.9"/><line x1="491.4" y1="120.9" x2="491.4" y2="124.2" stroke="#808080" stroke-width="0.9"/><text x="315.7" y="132.8" text-anchor="middle" font-size="5.9">11</text><text x="331" y="132.8" text-anchor="middle" font-size="5.9">12</text><text x="346.9" y="132.8" text-anchor="middle" font-size="5.9">01</text><text x="363.4" y="132.8" text-anchor="middle" font-size="5.9">11</text><text x="379" y="132.8" text-anchor="middle" font-size="5.9">12</text><text x="394.8" y="132.8" text-anchor="middle" font-size="5.9">01</text><text x="411.4" y="132.8" text-anchor="middle" font-size="5.9">11</text><text x="427.6" y="132.8" text-anchor="middle" font-size="5.9">12</text><text x="443.2" y="132.8" text-anchor="middle" font-size="5.9">01</text><text x="459.8" y="132.8" text-anchor="middle" font-size="5.9">11</text><text x="475.4" y="132.8" text-anchor="middle" font-size="5.9">12</text><text x="491.7" y="132.8" text-anchor="middle" font-size="5.9">01</text><text x="508.5" y="132.8" text-anchor="middle" font-size="5.9">11</text><text x="524.3" y="132.8" text-anchor="middle" font-size="5.9">12</text><text x="538.7" y="132.8" text-anchor="middle" font-size="5.9">01</text><text x="315.4" y="140.9" text-anchor="middle" font-size="8.1">2015</text><text x="346.6" y="140.9" text-anchor="middle" font-size="8.1">2016</text><text x="394.5" y="140.9" text-anchor="middle" font-size="8.1">2017</text><text x="442.9" y="140.9" text-anchor="middle" font-size="8.1">2018</text><text x="491.4" y="140.9" text-anchor="middle" font-size="8.1">2019</text><text x="538.4" y="140.9" text-anchor="middle" font-size="8.1">2020</text><text transform="translate(286.6,68.6) rotate(-90)" text-anchor="middle" font-size="10">RMSE (cm)</text><text x="315.1" y="10.4" font-size="8.6">(b)</text><line x1="345" y1="7.4" x2="363.2" y2="7.4" stroke="#0a0aff" stroke-width="1.1"/><text x="364.6" y="10.3" font-size="7.8">CLM3.5</text><line x1="413" y1="7.4" x2="431.2" y2="7.4" stroke="#10e810" stroke-width="1.1"/><text x="432.6" y="10.3" font-size="7.8">Noah</text><line x1="471.5" y1="7.4" x2="489.7" y2="7.4" stroke="#ff0a0a" stroke-width="1.1"/><text x="491.1" y="10.3" font-size="7.8">Noah-MP</text></g>
<g><line x1="92.6" y1="158.9" x2="92.6" y2="270.7" stroke="#333" stroke-width="0.9" stroke-dasharray="1.1,1.5"/><line x1="140.8" y1="158.9" x2="140.8" y2="270.7" stroke="#333" stroke-width="0.9" stroke-dasharray="1.1,1.5"/><line x1="189.1" y1="158.9" x2="189.1" y2="270.7" stroke="#333" stroke-width="0.9" stroke-dasharray="1.1,1.5"/><line x1="238" y1="158.9" x2="238" y2="270.7" stroke="#333" stroke-width="0.9" stroke-dasharray="1.1,1.5"/><polyline points="44.8,166.26 44.8,169.88 45.09,182.58 45.63,177.14 46.18,188.02 46.72,177.14 47.27,175.33 47.99,173.51 48.54,182.58 49.08,177.14 49.62,188.02 50.35,193.47 50.89,184.4 51.44,178.95 52.16,175.33 52.71,173.51 53.43,184.4 53.98,188.02 54.52,177.14 55.25,182.58 55.79,198.91 56.34,230.66 57.06,202.54 57.79,189.84 58.51,178.95 59.42,175.33 60.33,169.88 61.23,164.44 62.14,165.35 63.05,166.26 63.95,166.62 64.86,168.07 65.77,169.88 66.68,169.6 67.58,168.98 68.49,169.3 69.4,168.98 70.3,169.01 71.21,168.43 72.12,168.49 73.02,168.07 73.93,168.19 74.84,168.98 75.75,169.02 76.65,169.34 77.56,169.43 78.47,169.68 79.37,169.88 80.28,174.42 81.19,170.79 82.1,170.24 83,170.42 83.91,169.88 84.27,170.33 85.11,170.8 85.95,171.56 86.79,171.58 87.42,172.95 88.05,174.1 88.68,173.59 89.31,172.09 90.06,171.68 90.82,171.08 91.57,176.62 92.07,209.34 92.58,230.73 93.33,204.31 93.84,174.1 94.34,167.05 95.18,166.76 96.02,166.64 96.86,166.55 97.7,166.7 98.53,167.03 99.37,167.05 100.21,166.81 101.05,167.15 101.89,167.81 102.9,169.07 103.65,190.46 104.41,170.33 105.25,169.61 106.09,168.8 106.92,168.56 107.76,169.1 108.6,168.79 109.44,169.07 110.28,168.9 111.12,169.16 111.96,169.07 112.8,169.71 113.64,169.53 114.48,170.33 115.31,171.07 116.15,171.05 116.99,171.08 117.62,173.08 118.25,174.61 118.88,173.02 119.51,172.09 120.35,171.58 121.19,171.87 122.03,171.58 122.87,171.98 123.7,172.1 124.54,172.84 125.38,172.98 126.22,172.63 127.06,172.09 127.9,172.46 128.74,172.26 129.58,172.84 130.42,173.43 131.26,173.3 132.09,173.6 132.93,173.65 133.77,173.63 134.61,174.1 135.45,174.07 136.29,174.67 137.13,174.61 138,174.1 138.63,174.58 139.26,175.36 140.27,176.62 140.77,196.75 141.27,257.16 142.03,259.68 143.03,255.9 144.04,242.06 145.05,221.92 146.05,209.34 147.06,196.75 148.07,191.72 149.07,189.2 150.08,196.75 151.09,190.46 152.1,191.72 153.1,189.2 154.11,187.95 155.12,186.69 156.12,189.2 157.13,191.72 157.63,208.08 158.14,189.2 158.77,186.27 159.39,184.17 160.02,181.48 160.65,179.14 161.28,178.97 161.91,177.88 162.54,176.98 163.17,176.62 163.8,175.7 164.43,174.1 165.06,174.76 165.69,175.36 166.32,177.7 166.95,179.14 167.57,181.49 168.2,182.91 168.71,186.69 169.46,179.14 170.22,171.58 171.22,170.33 172.23,169.07 173.24,172.84 173.87,176.18 174.5,179.14 175.25,186.69 176.26,181.65 177.27,177.88 178.27,179.14 178.9,177.91 179.53,176.62 180.16,175.3 180.79,174.1 181.42,173.55 182.05,172.84 182.68,174.35 183.31,175.36 183.94,178.91 184.56,181.65 185.19,183.94 185.82,186.69 186.83,179.14 187.84,181.65 188.52,209.34 189.28,247.09 189.78,249.61 190.54,234.51 191.29,221.92 192.05,219.41 192.8,237.03 193.56,209.34 194.31,196.75 195.07,194.24 195.7,195.42 196.33,196.75 196.96,199.29 197.58,201.79 198.21,200.08 198.84,199.27 199.47,201.59 200.1,204.31 200.86,211.86 201.61,201.79 202.62,204.31 203.37,199.27 204.13,211.86 205.14,196.75 205.77,193.85 206.39,191.72 207.02,190.27 207.65,189.2 208.28,192.17 208.91,194.24 209.54,195.58 210.17,196.75 210.8,198.4 211.43,200.53 212.06,202.3 212.69,204.31 213.32,203.16 213.95,201.79 214.57,199.45 215.2,196.75 215.83,195.04 216.46,194.24 217.09,193.51 217.72,192.98 218.35,193.94 218.98,195.5 219.61,193.78 220.24,191.72 220.87,191.13 221.5,190.46 222.13,189.88 222.75,189.2 223.38,190.12 224.01,191.72 224.64,198.49 225.27,204.31 225.9,199.48 226.53,194.24 227.16,193.37 227.79,191.72 228.42,190.45 229.05,189.2 229.68,188.21 230.31,186.69 230.94,185.67 231.56,185.43 232.19,184.98 232.82,184.17 233.45,183.29 234.08,182.91 234.71,182.37 235.34,181.65 235.97,187.59 236.6,194.24 237.35,221.92 238.36,234.51 239.12,231.99 239.74,229.57 240.37,226.96 241,224.73 241.63,221.92 242.26,218.22 242.89,214.37 243.52,211.82 244.15,209.34 244.9,201.79 245.41,179.14 246.16,174.1 246.92,179.14 247.92,184.17 248.55,186.55 249.18,189.2 249.81,190.46 250.44,191.72 251.2,196.75 251.95,189.2 252.96,186.69 253.59,185.92 254.22,184.17 254.85,183.92 255.48,182.91 256.1,184.01 256.73,184.17 257.36,183.09 257.99,182.91 258.62,183.54 259.25,184.17 259.88,187.5 260.51,191.72 261.26,184.17 261.89,183.35 262.52,181.65 263.4,180.08 264.29,179.14 264.91,177.74 265.54,176.62 266.17,175.36 266.8,174.1 267.43,173.36 267.7,172.84 267.7,171.58" fill="none" stroke="#0a0aff" stroke-width="1.6" stroke-linejoin="round"/><polyline points="44.8,163.54 44.8,166.26 45.09,173.51 45.63,169.88 46.18,182.58 46.72,171.7 47.27,169.88 47.99,170.79 48.54,178.95 49.08,171.7 49.62,186.21 50.35,187.12 50.89,180.77 51.44,175.33 52.16,171.7 52.71,170.79 53.43,177.14 53.98,173.51 54.52,169.88 55.25,177.14 55.79,191.65 56.34,202.54 57.06,195.28 57.79,186.21 58.51,177.14 59.42,173.51 60.33,168.07 61.23,165.35 62.14,166.26 63.05,166.66 63.95,167.16 64.86,167.51 65.77,168.07 66.68,168.02 67.58,167.16 68.49,167.44 69.4,167.71 70.3,167.03 71.21,167.16 72.12,167.32 73.02,166.62 73.93,167.22 74.84,167.71 75.75,167.49 76.65,168.07 77.56,168.96 78.47,168.98 79.37,168.62 80.28,168.98 81.19,168.77 82.1,169.47 83,169.23 83.91,168.98 84.27,169.07 85.11,169.69 85.95,169 86.79,169.57 87.42,170.83 88.05,171.58 88.68,171.23 89.31,170.33 90.06,169.4 90.82,169.07 91.57,171.58 92.07,189.2 92.58,209.34 93.33,184.17 93.84,170.33 94.34,166.05 95.18,165.78 96.02,165.25 96.86,165.29 97.7,165.62 98.53,166.12 99.37,166.05 100.21,166.3 101.05,166.64 101.89,166.55 102.73,166.54 103.57,166.74 104.41,167.05 105.25,167.01 106.09,167.07 106.92,167.05 107.76,167.25 108.6,167.6 109.44,167.81 110.28,167.16 111.12,166.91 111.96,167.05 112.8,167.28 113.64,168.02 114.48,167.81 115.31,167.62 116.15,167.96 116.99,168.56 117.83,168.14 118.67,168.84 119.51,168.56 120.35,169.21 121.19,168.63 122.03,169.07 122.87,169.07 123.7,168.33 124.54,168.56 125.38,168.63 126.22,168.45 127.06,169.07 127.9,169.44 128.74,169.07 129.58,169.07 130.42,168.98 131.26,169.53 132.09,169.57 132.93,169.72 133.77,169.36 134.61,169.57 135.45,169.68 136.29,169.95 137.13,170.33 138,169.07 138.76,169.43 139.51,169.63 140.27,170.33 140.77,179.14 141.27,224.44 142.03,209.34 142.78,179.14 143.54,189.2 144.29,171.58 145.05,181.65 146.05,169.07 147.06,179.14 148.07,167.81 148.7,167.98 149.33,169.07 149.96,169.48 150.58,170.33 151.21,170.87 151.84,171.08 152.47,171.08 153.1,170.33 153.94,170.57 154.78,170.69 155.62,171.08 156.46,171.59 157.3,171.37 158.14,171.58 158.97,171.98 159.81,171.93 160.65,171.58 161.49,170.72 162.33,170.93 163.17,170.33 164.01,170.26 164.85,171.01 165.69,171.58 166.53,171.53 167.36,172.33 168.2,172.84 168.83,171.36 169.46,170.33 170.09,169.29 170.72,169.07 171.56,169.95 172.4,169.58 173.24,170.33 174.08,170.82 174.92,171.89 175.75,172.84 176.59,172.06 177.43,171.51 178.27,171.58 179.11,171.66 179.95,170.87 180.79,170.33 181.63,169.9 182.47,170.24 183.31,169.57 183.94,170.08 184.56,171.58 185.19,173.15 185.82,174.1 186.45,175.75 187.08,176.62 187.52,176.62 188.52,189.2 189.28,221.92 190.03,204.31 190.79,184.17 191.54,179.14 192.55,180.39 193.18,179.86 193.81,179.14 194.44,177.98 195.07,176.62 195.7,177.29 196.33,177.88 196.96,178.72 197.58,179.14 198.21,178.4 198.84,177.88 199.47,177.33 200.1,176.62 200.73,177.06 201.36,177.88 201.99,176.68 202.62,175.36 203.25,175.62 203.88,176.62 204.51,176.12 205.14,175.36 205.77,175.99 206.39,176.62 207.02,176.58 207.65,176.12 208.28,177.75 208.91,179.14 209.54,177.54 210.17,176.62 210.8,176.45 211.43,175.36 212.06,174.94 212.69,174.1 213.32,173.79 213.95,172.84 214.57,171.96 215.2,171.58 215.83,171.96 216.46,172.84 217.09,171.76 217.72,171.58 218.35,173.01 218.98,174.1 219.61,173.43 220.24,172.84 220.87,172.01 221.5,171.58 222.13,172.6 222.75,174.1 223.38,173.9 224.01,172.84 224.64,175.28 225.27,177.88 225.9,177.63 226.53,176.62 227.16,176.1 227.79,175.36 228.42,175.16 229.05,174.1 229.68,173.44 230.31,172.84 230.94,172.21 231.56,171.58 232.19,171.75 232.82,172.84 233.45,172.54 234.08,171.58 234.71,172.51 235.34,174.1 235.97,178.82 236.6,184.17 237.35,209.34 238.36,224.44 239.12,221.92 239.74,218.48 240.37,214.37 241,210.52 241.63,206.82 242.26,202.19 242.89,196.75 243.52,190.6 244.15,184.17 244.78,176.23 245.41,169.07 246.41,166.55 247.42,172.84 248.43,179.14 249.43,180.39 250.44,179.14 251.07,178.03 251.7,177.88 252.33,177.55 252.96,177.12 253.59,177.22 254.22,176.62 254.85,177.34 255.48,177.88 256.1,177.3 256.73,176.12 257.36,175.47 257.99,175.36 258.62,175.17 259.25,174.61 259.88,173.92 260.51,174.1 261.14,174.33 261.77,173.6 262.4,173.71 263.03,172.84 263.66,171.84 264.29,171.58 264.91,171.22 265.54,171.08 266.17,170.49 266.8,170.33 267.43,169.91 267.7,169.57 267.7,168.56" fill="none" stroke="#10e810" stroke-width="1.6" stroke-linejoin="round"/><polyline points="44.8,177.14 44.8,169.88 45.09,184.4 45.63,173.51 46.18,194.37 46.72,173.51 47.27,171.7 47.99,171.7 48.54,180.77 49.08,173.51 49.62,184.4 50.35,190.75 50.89,182.58 51.44,177.14 52.16,173.51 52.71,172.61 53.43,180.77 53.98,178.95 54.52,171.7 55.25,178.95 55.79,195.28 56.34,224.31 57.06,202.54 57.79,189.84 58.51,178.95 59.42,175.33 60.33,169.88 61.23,165.35 62.14,165.89 63.05,166.62 63.95,167.16 64.86,168.98 65.77,170.79 66.68,169.88 67.58,169.52 68.49,168.98 69.4,169.34 70.3,169.42 71.21,168.98 72.12,168.37 73.02,168.07 73.93,168.39 74.84,168.98 75.75,169.05 76.65,169.34 77.56,169.18 78.47,169.88 79.37,169.78 80.28,169.52 81.19,169.79 82.1,170.79 83,170.32 83.91,170.25 84.27,170.33 85.11,170.18 85.95,171.04 86.79,171.08 87.42,172.13 88.05,173.6 88.68,172.94 89.31,171.58 90.06,171.05 90.82,170.33 91.57,172.84 92.07,196.75 92.58,221.92 93.33,189.2 93.84,171.58 94.34,166.55 95.18,166.82 96.02,165.95 96.86,166.05 97.7,165.82 98.53,166.5 99.37,166.55 100.21,166.7 101.05,166.73 101.89,167.05 102.52,167.63 103.15,168.56 103.78,168.29 104.41,168.56 105.25,168.41 106.09,168.27 106.92,167.81 107.76,167.57 108.6,168.52 109.44,168.56 110.28,168.24 111.12,167.61 111.96,167.81 112.8,167.85 113.64,168.19 114.48,168.56 115.31,169.1 116.15,169.27 116.99,169.07 117.83,169.65 118.67,169.42 119.51,169.57 120.35,169.73 121.19,169.48 122.03,169.57 122.87,169.29 123.7,169.29 124.54,169.07 125.38,169.16 126.22,169.52 127.06,169.57 127.9,169.45 128.74,169.44 129.58,169.57 130.42,169.97 131.26,170.41 132.09,170.33 132.93,170.69 133.77,170.41 134.61,170.33 135.45,170.13 136.29,170.36 137.13,171.08 138,170.33 138.63,170.51 139.26,171.58 140.27,172.84 140.77,184.17 141.27,244.58 142.03,234.51 142.53,196.75 143.03,174.1 143.79,209.34 144.54,179.14 145.3,189.2 146.05,171.58 146.81,196.75 147.56,174.1 148.32,184.17 149.07,169.07 150.08,174.1 151.09,170.33 152.1,174.1 153.1,170.33 154.11,171.58 155.12,171.08 156.12,171.58 157.13,179.14 158.14,172.84 158.77,172.51 159.39,171.58 160.02,171.44 160.65,171.08 161.28,171.08 161.91,171.58 162.54,171.75 163.17,171.08 163.8,170.81 164.43,170.33 165.06,171.45 165.69,171.58 166.32,173.45 166.95,175.36 167.57,177.44 168.2,179.14 168.83,176.65 169.46,174.1 170.09,171.98 170.72,169.07 171.35,168.82 171.98,168.56 172.61,170.5 173.24,171.58 173.87,175.85 174.5,179.14 175.25,186.69 176.26,179.14 177.27,174.1 178.27,172.84 178.9,171.51 179.53,171.08 180.16,170.28 180.79,170.33 181.42,170.22 182.05,169.57 182.68,170.39 183.31,170.33 183.94,171.25 184.56,172.84 185.19,176.45 185.82,179.14 186.45,180.18 187.08,181.65 187.52,181.65 188.52,196.75 189.28,214.37 189.78,199.27 190.54,186.69 191.29,181.65 192.05,184.17 192.8,189.2 193.56,184.17 194.31,181.65 195.07,182.91 195.7,182.18 196.33,181.65 196.96,183.63 197.58,185.43 198.21,186.35 198.84,187.95 199.47,187.23 200.1,186.69 200.73,185.69 201.36,184.17 201.99,181.89 202.62,180.39 203.25,179.38 203.88,179.14 204.51,178.61 205.14,177.88 205.77,179.18 206.39,180.39 207.02,182.73 207.65,184.17 208.28,193.76 208.91,204.31 209.67,196.75 210.67,186.69 211.68,179.14 212.69,177.88 213.32,179.87 213.95,181.65 214.7,201.79 215.2,184.17 215.83,182.09 216.46,179.14 217.09,180.61 217.72,181.65 218.35,181.34 218.98,180.39 219.61,182.17 220.24,184.17 220.87,185.3 221.5,186.69 222.13,184.55 222.75,181.65 223.38,180.24 224.01,179.14 224.77,189.2 225.78,205.56 226.53,191.72 227.16,186.75 227.79,181.65 228.42,179.34 229.05,177.88 229.68,176.87 230.31,176.62 230.94,177.74 231.56,177.88 232.19,177.17 232.82,176.62 233.45,175.52 234.08,175.36 234.71,174.38 235.34,174.1 235.97,178.1 236.6,181.65 237.35,199.27 238.36,209.34 239.12,204.31 239.87,196.75 240.88,191.72 241.88,189.2 242.89,186.69 243.52,181.18 244.15,176.62 244.78,173.04 245.41,170.33 246.41,174.1 247.42,179.14 248.43,184.17 249.43,185.43 250.44,184.17 251.07,183.15 251.7,181.65 252.33,182.16 252.96,182.91 253.59,183.63 254.22,184.17 254.85,182.84 255.48,181.65 256.1,179.92 256.73,179.14 257.36,179 257.99,177.88 258.62,177.42 259.25,176.62 259.88,176.22 260.51,176.12 261.14,175.72 261.77,175.36 262.4,175 263.03,174.1 263.66,173.24 264.29,172.84 264.91,171.77 265.54,171.58 266.17,171.03 266.8,170.33 267.43,170.17 267.7,169.57 267.7,169.07" fill="none" stroke="#ff0a0a" stroke-width="1.6" stroke-linejoin="round"/><rect x="44.5" y="158.9" width="223.5" height="111.8" fill="none" stroke="#6a6a6a" stroke-width="1"/><line x1="41.9" y1="266.6" x2="44.5" y2="266.6" stroke="#9a9a9a" stroke-width="0.75"/><line x1="39.3" y1="261.47" x2="44.5" y2="261.47" stroke="#808080" stroke-width="1.0"/><line x1="41.9" y1="256.34" x2="44.5" y2="256.34" stroke="#9a9a9a" stroke-width="0.75"/><line x1="41.9" y1="251.21" x2="44.5" y2="251.21" stroke="#9a9a9a" stroke-width="0.75"/><line x1="41.9" y1="246.08" x2="44.5" y2="246.08" stroke="#9a9a9a" stroke-width="0.75"/><line x1="39.3" y1="240.96" x2="44.5" y2="240.96" stroke="#808080" stroke-width="1.0"/><line x1="41.9" y1="235.83" x2="44.5" y2="235.83" stroke="#9a9a9a" stroke-width="0.75"/><line x1="41.9" y1="230.7" x2="44.5" y2="230.7" stroke="#9a9a9a" stroke-width="0.75"/><line x1="41.9" y1="225.57" x2="44.5" y2="225.57" stroke="#9a9a9a" stroke-width="0.75"/><line x1="39.3" y1="220.44" x2="44.5" y2="220.44" stroke="#808080" stroke-width="1.0"/><line x1="41.9" y1="215.31" x2="44.5" y2="215.31" stroke="#9a9a9a" stroke-width="0.75"/><line x1="41.9" y1="210.18" x2="44.5" y2="210.18" stroke="#9a9a9a" stroke-width="0.75"/><line x1="41.9" y1="205.06" x2="44.5" y2="205.06" stroke="#9a9a9a" stroke-width="0.75"/><line x1="39.3" y1="199.93" x2="44.5" y2="199.93" stroke="#808080" stroke-width="1.0"/><line x1="41.9" y1="194.8" x2="44.5" y2="194.8" stroke="#9a9a9a" stroke-width="0.75"/><line x1="41.9" y1="189.67" x2="44.5" y2="189.67" stroke="#9a9a9a" stroke-width="0.75"/><line x1="41.9" y1="184.54" x2="44.5" y2="184.54" stroke="#9a9a9a" stroke-width="0.75"/><line x1="39.3" y1="179.41" x2="44.5" y2="179.41" stroke="#808080" stroke-width="1.0"/><line x1="41.9" y1="174.29" x2="44.5" y2="174.29" stroke="#9a9a9a" stroke-width="0.75"/><line x1="41.9" y1="169.16" x2="44.5" y2="169.16" stroke="#9a9a9a" stroke-width="0.75"/><line x1="41.9" y1="164.03" x2="44.5" y2="164.03" stroke="#9a9a9a" stroke-width="0.75"/><line x1="39.3" y1="158.9" x2="44.5" y2="158.9" stroke="#808080" stroke-width="1.0"/><text x="33.9" y="264.27" text-anchor="end" font-size="7.8">0.0</text><text x="33.9" y="243.76" text-anchor="end" font-size="7.8">0.2</text><text x="33.9" y="223.24" text-anchor="end" font-size="7.8">0.4</text><text x="33.9" y="202.73" text-anchor="end" font-size="7.8">0.6</text><text x="33.9" y="182.21" text-anchor="end" font-size="7.8">0.8</text><text x="33.9" y="161.7" text-anchor="end" font-size="7.8">1.0</text><line x1="268" y1="270.7" x2="268" y2="276.2" stroke="#6a6a6a" stroke-width="1"/><line x1="60.1" y1="267.4" x2="60.1" y2="270.7" stroke="#808080" stroke-width="0.9"/><line x1="108.5" y1="267.4" x2="108.5" y2="270.7" stroke="#808080" stroke-width="0.9"/><line x1="156.5" y1="267.4" x2="156.5" y2="270.7" stroke="#808080" stroke-width="0.9"/><line x1="204.6" y1="267.4" x2="204.6" y2="270.7" stroke="#808080" stroke-width="0.9"/><line x1="253.5" y1="267.4" x2="253.5" y2="270.7" stroke="#808080" stroke-width="0.9"/><line x1="76.5" y1="267.4" x2="76.5" y2="270.7" stroke="#808080" stroke-width="0.9"/><line x1="124.3" y1="267.4" x2="124.3" y2="270.7" stroke="#808080" stroke-width="0.9"/><line x1="172.3" y1="267.4" x2="172.3" y2="270.7" stroke="#808080" stroke-width="0.9"/><line x1="220.7" y1="267.4" x2="220.7" y2="270.7" stroke="#808080" stroke-width="0.9"/><text x="44.9" y="279.3" text-anchor="middle" font-size="5.9">11</text><text x="60.4" y="279.3" text-anchor="middle" font-size="5.9">12</text><text x="76.8" y="279.3" text-anchor="middle" font-size="5.9">01</text><text x="92.9" y="279.3" text-anchor="middle" font-size="5.9">11</text><text x="108.8" y="279.3" text-anchor="middle" font-size="5.9">12</text><text x="124.6" y="279.3" text-anchor="middle" font-size="5.9">01</text><text x="141.1" y="279.3" text-anchor="middle" font-size="5.9">11</text><text x="156.8" y="279.3" text-anchor="middle" font-size="5.9">12</text><text x="172.6" y="279.3" text-anchor="middle" font-size="5.9">01</text><text x="189.4" y="279.3" text-anchor="middle" font-size="5.9">11</text><text x="204.9" y="279.3" text-anchor="middle" font-size="5.9">12</text><text x="221" y="279.3" text-anchor="middle" font-size="5.9">01</text><text x="238.3" y="279.3" text-anchor="middle" font-size="5.9">11</text><text x="253.8" y="279.3" text-anchor="middle" font-size="5.9">12</text><text x="268.3" y="279.3" text-anchor="middle" font-size="5.9">01</text><text x="44.6" y="287.4" text-anchor="middle" font-size="8.1">2015</text><text x="76.5" y="287.4" text-anchor="middle" font-size="8.1">2016</text><text x="124.3" y="287.4" text-anchor="middle" font-size="8.1">2017</text><text x="172.3" y="287.4" text-anchor="middle" font-size="8.1">2018</text><text x="220.7" y="287.4" text-anchor="middle" font-size="8.1">2019</text><text x="268" y="287.4" text-anchor="middle" font-size="8.1">2020</text><text transform="translate(15.9,214.8) rotate(-90)" text-anchor="middle" font-size="10">CORR</text><text x="44.2" y="156.3" font-size="8.6">(c)</text><line x1="74.3" y1="153.3" x2="92.5" y2="153.3" stroke="#0a0aff" stroke-width="1.1"/><text x="93.9" y="156.2" font-size="7.8">CLM3.5</text><line x1="142.5" y1="153.3" x2="160.7" y2="153.3" stroke="#10e810" stroke-width="1.1"/><text x="162.1" y="156.2" font-size="7.8">Noah</text><line x1="201" y1="153.3" x2="219.2" y2="153.3" stroke="#ff0a0a" stroke-width="1.1"/><text x="220.6" y="156.2" font-size="7.8">Noah-MP</text></g>
<g><line x1="364.9" y1="160" x2="364.9" y2="271.4" stroke="#333" stroke-width="0.9" stroke-dasharray="1.1,1.5"/><line x1="412.3" y1="160" x2="412.3" y2="271.4" stroke="#333" stroke-width="0.9" stroke-dasharray="1.1,1.5"/><line x1="460.9" y1="160" x2="460.9" y2="271.4" stroke="#333" stroke-width="0.9" stroke-dasharray="1.1,1.5"/><line x1="509.3" y1="160" x2="509.3" y2="271.4" stroke="#333" stroke-width="0.9" stroke-dasharray="1.1,1.5"/><polyline points="316.5,260.28 316.55,246.39 317.01,271 317.7,271 318.4,267.22 319.09,257.96 319.79,253.33 320.48,262.59 321.18,267.22 321.87,257.96 322.56,251.02 323.26,260.28 323.95,264.91 324.65,269.54 325.57,264.91 326.15,262.05 326.73,257.96 327.31,259.46 327.89,262.59 328.47,264.7 329.05,267.22 329.62,263.35 330.2,257.96 330.78,259.82 331.36,260.28 331.94,264.21 332.52,267.22 333.1,269.51 333.68,270.69 334.25,270.59 334.83,269.54 335,266.94 335.82,268.57 336.63,267.76 337.45,266.94 338.27,268.57 339.08,267.76 339.9,269.39 340.71,268.57 341.53,267.76 342.35,268.57 343.16,269.39 343.98,269.88 344.8,270.2 345.61,269.39 346.43,266.94 347.24,265.31 348.06,266.12 348.88,266.94 349.69,264.49 350,266.94 350.82,265.31 351.63,266.12 352.45,263.67 353.27,262.04 354.08,258.78 354.9,260.41 355.71,257.14 356.53,253.88 357.35,248.98 358.16,252.24 358.98,245.71 359.8,235.92 360.29,231.84 360.78,235.92 361.43,245.71 362.24,253.88 363.06,256.33 363.88,258.78 364.37,265.31 364.86,268.57 365.51,262.04 366.33,257.14 367.14,258.78 367.96,262.04 368.78,265.31 369.59,266.94 370.41,264.49 371.22,265.31 372.04,266.94 372.86,265.31 373.67,266.94 374.49,264.49 375.31,262.04 376.12,258.78 376.94,263.67 377.76,266.94 378.57,268.57 379.39,266.94 380.2,267.41 381.02,267.76 381.84,267 382.65,266.94 383.41,266.36 384.18,266.86 384.94,266.12 385.1,265.71 385.73,266.03 386.36,266.97 386.99,266.58 387.62,265.71 388.25,265.37 388.88,264.46 389.51,261.8 390.14,260.68 390.77,263.03 391.39,265.71 392.02,264.6 392.65,263.2 393.28,262.17 393.91,259.42 394.54,260.78 395.17,261.94 395.8,261.67 396.43,260.68 397.06,259.21 397.69,259.42 398.32,262.09 398.95,265.71 399.57,263.67 400.2,263.2 400.83,262.99 401.46,261.94 402.09,260.46 402.72,260.68 403.35,263.36 403.98,265.71 404.61,264.05 405.24,263.2 405.87,262.7 406.5,260.68 407.13,262.63 407.75,263.2 408.38,262.15 409.01,260.68 409.64,259.04 410.27,258.16 410.9,260.47 411.53,263.2 412.29,255.65 413.29,240.54 414.3,222.92 415.05,177.62 415.81,210.34 416.56,235.51 416.91,262.56 417.47,258.91 418.02,256.98 418.95,253.26 419.88,255.12 420.81,256.98 421.74,253.26 422.67,254.19 423.6,255.12 424.53,251.4 425.47,254.19 426.4,260.7 427.33,256.98 428.26,255.12 429.19,253.26 430.12,255.12 431.05,253.26 431.98,255.12 432.91,251.4 433.84,249.53 434.77,251.4 435.7,247.67 436.63,245.81 437.56,243.95 438.49,245.81 439.42,247.67 440.35,251.4 441.28,249.53 442.21,251.4 443.14,253.26 444.07,252.56 445,251.4 445.17,253.13 445.8,253.87 446.43,255.65 447.06,256.1 447.69,258.16 448.32,259.73 448.95,260.68 449.57,261.12 450.2,261.94 450.83,262.71 451.46,263.2 452.09,264.59 452.72,265.71 453.35,264.66 453.98,263.2 454.61,261.19 455.24,260.68 455.87,262.01 456.5,261.94 457.13,259.86 457.75,259.42 458.38,258.09 459.01,255.65 459.77,243.06 460.78,227.96 461.53,240.54 462.29,248.09 463.29,243.06 464.3,232.99 465.31,240.54 465.94,245.63 466.56,250.61 467.19,248.02 467.82,245.58 468.45,247.25 469.08,248.09 469.71,247.02 470.34,245.58 470.97,246.7 471.6,249.35 472.23,248.77 472.86,248.09 473.61,248.79 474.37,248.3 475.12,249.35 475.71,247.96 476.29,248.09 476.92,246.01 477.55,243.06 478.18,238.82 478.81,235.51 479.44,229.25 480.07,222.92 480.82,217.89 481.58,227.96 482.58,235.51 483.21,237.22 483.84,240.54 484.47,240.16 485.1,238.03 485.73,236.02 486.36,235.51 486.99,237.39 487.62,240.54 488.25,242.28 488.88,243.06 489.51,241.93 490.14,240.54 490.77,238.56 491.39,235.51 492.02,232.22 492.65,230.48 493.28,228.66 493.91,225.44 494.54,222.53 495.17,220.41 495.8,218.2 496.43,215.37 497.06,209.62 497.69,205.31 498.44,210.34 499.2,222.92 500.2,225.44 500.83,227.39 501.46,227.96 502.09,226.85 502.72,225.44 503.35,226.81 503.98,227.96 504.61,229.34 505.24,230.48 505.87,232.42 506.5,232.99 507.13,233.79 507.75,235.51 508.51,240.54 509.27,243.06 510.02,230.48 510.78,222.92 511.78,225.44 512.79,222.92 513.42,222.27 514.05,220.41 514.68,224.24 515.31,227.96 515.94,232.41 516.56,235.51 517.19,241.26 517.82,245.58 518.45,249.72 519.08,253.13 519.71,251.4 520.34,248.09 520.97,242.82 521.6,238.03 522.23,236.94 522.86,235.51 523.49,239.87 524.12,243.06 524.74,245.94 525.37,250.61 526,253.3 526.63,255.65 527.26,252.44 527.89,248.09 528.52,245.12 529.15,243.06 529.78,244.27 530.41,245.58 531.04,248.64 531.67,250.61 532.3,250.02 532.92,248.09 533.55,246.65 534.18,245.58 534.81,248.24 535.44,249.35 536.07,249.3 536.7,250.61 537.33,251.69 537.96,253.13 538.59,254.19 539.22,255.65 539.7,257.6 539.7,258.16" fill="none" stroke="#0a0aff" stroke-width="1.6" stroke-linejoin="round"/><polyline points="316.5,207.04 316.55,211.67 317.01,220.93 317.7,216.3 318.4,209.35 319.09,216.3 319.79,223.24 320.48,227.87 321.18,209.35 321.87,202.41 322.56,188.52 323.26,176.94 323.95,190.83 324.65,211.67 325.57,223.24 326.15,229.3 326.73,234.81 327.31,238.68 327.89,241.76 328.47,240.09 329.05,237.13 329.62,232.83 330.2,227.87 330.78,222.93 331.36,216.3 331.94,214.65 332.52,213.98 333.1,217.88 333.68,223.24 334.25,227.8 334.83,232.5 335,244.08 335.65,242.79 336.31,241.63 336.88,240.09 337.45,239.18 338.02,235.87 338.59,234.29 339.57,237.55 340.14,238.8 340.71,239.18 341.53,242.45 342.35,247.35 343.16,252.24 343.98,255.51 344.8,256.33 345.61,254.69 346.43,252.24 347.24,250.61 348.06,248.98 348.88,247.35 349.69,244.08 350,245.71 350.82,244.08 351.63,242.45 352.45,240.82 353.27,239.18 354.08,235.92 354.9,231.02 355.71,237.55 356.53,240.82 357.35,235.92 358.16,229.39 358.98,224.49 359.8,216.33 360.61,211.43 361.1,207.35 361.76,213.06 362.41,219.59 363.06,224.49 363.88,231.02 364.69,235.92 365.51,239.18 366.33,234.29 367.14,231.02 367.96,232.65 368.78,237.55 369.59,242.45 370.41,237.55 371.22,232.65 372.04,234.29 372.86,240.82 373.67,237.55 374.49,232.65 375.31,222.86 376.12,217.96 376.61,214.69 377.1,219.59 377.76,232.65 378.57,245.71 379.39,248.98 380.2,250.61 381.02,252.24 381.84,253.36 382.65,255.51 383.41,254.46 384.18,253.89 384.94,253.88 385.1,255.65 385.73,256.2 386.36,256.9 386.99,257.11 387.62,255.65 388.25,251.57 388.88,248.09 389.51,239.3 390.14,230.48 390.77,226.65 391.39,222.92 392.02,224.58 392.65,225.44 393.28,221.59 393.91,219.15 394.54,222.7 395.17,227.96 395.8,232.25 396.43,235.51 397.06,234.23 397.69,232.99 398.32,228.49 398.95,222.92 399.57,225.63 400.2,227.96 400.83,233.29 401.46,238.03 402.09,240.37 402.72,243.06 403.35,246.16 403.98,248.09 404.61,250.35 405.24,253.13 405.87,255.01 406.5,255.65 407.13,254.3 407.75,254.39 408.38,253.3 409.01,250.61 409.64,250.99 410.27,253.13 410.9,254.93 411.53,255.65 412.29,222.92 412.79,197.75 413.54,192.72 414.3,205.31 415.05,200.27 415.81,215.37 416.56,235.51 416.91,238.37 417.47,233.05 418.02,227.21 418.95,234.65 419.88,242.09 420.81,240.23 421.74,245.81 422.67,236.51 423.6,242.09 424.53,230.93 425.47,238.37 426.4,240.23 427.33,236.51 428.26,242.09 429.19,245.81 430.12,247.67 431.05,245.81 431.98,243.95 432.91,240.23 433.84,234.65 434.77,230.93 435.7,236.51 436.63,238.37 437.56,242.09 438.49,243.95 439.42,245.81 440.35,247.67 441.28,245.81 442.21,247.67 443.14,245.81 444.07,246.15 445,247.67 445.17,243.06 445.8,241.29 446.43,240.54 447.06,242 447.69,243.06 448.32,242.04 448.95,240.54 449.57,239.85 450.2,238.03 450.83,241.42 451.46,243.06 452.09,243.67 452.72,245.58 453.35,243.75 453.98,240.54 454.61,242.7 455.24,243.06 455.87,244.5 456.5,245.58 457.13,243.53 457.75,240.54 458.38,236.02 459.01,232.99 459.77,217.89 460.78,200.27 461.53,210.34 462.29,230.48 463.29,217.89 464.3,202.79 465.31,215.37 465.94,220.93 466.56,225.44 467.19,222.47 467.82,217.89 468.45,220.02 469.08,222.92 469.71,225.29 470.34,227.96 470.97,229.49 471.6,230.48 472.23,228.75 472.86,227.96 473.61,228.42 474.37,228.9 475.12,229.22 475.71,224.02 476.29,220.41 476.92,219.09 477.55,217.89 478.18,214.45 478.81,210.34 479.44,206.09 480.07,200.27 480.82,193.98 481.58,200.27 482.58,210.34 483.21,214.97 483.84,217.89 484.47,219.76 485.1,220.41 485.73,220.91 486.36,222.92 486.99,221.11 487.62,220.41 488.25,219.49 488.88,217.89 489.51,216.46 490.14,215.37 490.77,212.16 491.39,210.34 492.02,208.82 492.65,207.82 493.28,204.82 493.91,200.27 494.54,196.04 495.17,190.2 495.8,187.45 496.43,185.17 497.06,183.07 497.69,181.39 498.44,185.17 499.2,195.24 500.2,200.27 500.83,202.49 501.46,205.31 502.09,204.15 502.72,202.79 503.35,203.24 503.98,205.31 504.61,205.95 505.24,207.82 505.87,205.72 506.5,205.31 507.13,199.51 507.75,192.72 508.51,182.65 509.01,175.1 509.77,185.17 510.78,197.75 511.78,200.27 512.79,195.24 513.42,192 514.05,190.2 514.68,194.61 515.31,200.27 515.94,205.52 516.56,210.34 517.19,213.21 517.82,215.37 518.45,217.35 519.08,217.89 519.71,213.97 520.34,210.34 520.97,206.41 521.6,204.05 522.23,205.39 522.86,207.82 523.49,214.56 524.12,220.41 524.74,222.51 525.37,225.44 526,226.72 526.63,227.96 527.26,229.1 527.89,230.48 528.52,229.98 529.15,227.96 529.78,225.21 530.41,222.92 531.04,223.02 531.67,221.67 532.3,222.98 532.92,225.44 533.55,227.01 534.18,227.96 534.81,229.84 535.44,230.48 536.07,231.76 536.7,232.99 537.33,233.48 537.96,235.51 538.59,237.47 539.22,238.03 539.7,241.25 539.7,243.06" fill="none" stroke="#10e810" stroke-width="1.6" stroke-linejoin="round"/><polyline points="316.5,220.93 316.55,213.98 317.01,239.44 317.7,234.81 318.4,227.87 319.09,220.93 319.79,239.44 320.48,244.07 321.18,227.87 321.87,216.3 322.56,204.72 323.26,197.78 323.95,211.67 324.65,227.87 325.57,239.44 326.15,243.11 326.73,246.39 327.31,246.66 327.89,248.7 328.47,253.69 329.05,257.96 329.62,254.99 330.2,251.02 330.78,247.67 331.36,244.07 331.94,244.9 332.52,246.39 333.1,254.26 333.68,262.59 334.25,264.3 334.83,267.22 335,262.04 335.82,258.78 336.63,255.51 337.45,252.24 338.27,250.61 339.08,248.98 339.9,248.98 340.71,250.61 341.53,252.24 342.35,248.98 343.16,250.61 343.98,252.24 344.8,253.88 345.61,252.24 346.43,250.61 347.24,248.98 348.06,248.98 348.88,250.61 349.69,248.98 350,247.35 350.82,245.71 351.63,242.45 352.45,240.82 353.27,239.18 354.08,238.37 354.9,240.82 355.71,239.18 356.53,240.82 357.35,242.45 358.16,235.92 358.98,229.39 359.8,224.49 360.61,221.22 361.43,224.49 362.24,229.39 363.06,232.65 363.88,237.55 364.69,248.98 365.18,265.31 365.67,271 366.16,262.04 366.65,248.98 367.31,242.45 367.96,239.18 368.78,245.71 369.59,253.88 370.41,248.98 371.22,242.45 372.04,245.71 372.86,250.61 373.67,247.35 374.49,240.82 375.31,248.98 376.12,253.88 376.94,252.24 377.76,257.14 378.57,260.41 379.39,261.22 380.2,260.37 381.02,260.41 381.84,260.81 382.65,261.22 383.41,260.39 384.18,259.82 384.94,260.41 385.1,258.16 385.73,258.27 386.36,256.9 386.99,255.63 387.62,255.65 388.25,254.48 388.88,253.13 389.51,248.54 390.14,243.06 390.77,244.53 391.39,245.58 392.02,243.72 392.65,243.06 393.28,246.88 393.91,250.61 394.54,249.7 395.17,248.09 395.8,245.57 396.43,243.06 397.06,241.34 397.69,240.54 398.32,241.89 398.95,244.32 399.57,244.07 400.2,245.58 400.83,242.71 401.46,240.54 402.09,241.24 402.72,243.06 403.35,244.12 403.98,245.58 404.61,246.11 405.24,246.84 405.87,246.1 406.5,245.58 407.13,244.31 407.75,243.06 408.38,244.33 409.01,245.58 409.64,242.96 410.27,240.54 410.9,242.33 411.53,245.58 412.29,210.34 412.79,190.2 413.54,200.27 414.3,220.41 415.05,210.34 415.81,230.48 416.56,248.09 416.91,260.7 417.47,256.3 418.02,251.4 418.95,249.53 419.88,245.81 420.81,253.26 421.74,249.53 422.67,247.67 423.6,251.4 424.53,249.53 425.47,245.81 426.4,242.09 427.33,240.23 428.26,243.95 429.19,245.81 430.12,242.09 431.05,245.81 431.98,249.53 432.91,251.4 433.84,242.09 434.77,238.37 435.7,234.65 436.63,233.72 437.56,232.79 438.49,234.65 439.42,233.72 440.35,234.65 441.28,232.79 442.21,230.93 443.14,232.79 444.07,230.33 445,227.21 445.17,225.44 445.92,232.99 446.68,240.54 447.69,238.03 448.32,239.5 448.95,240.54 449.57,242.31 450.2,243.06 450.83,241.6 451.46,240.54 452.09,239.27 452.72,238.03 453.35,239.7 453.98,240.54 454.61,238.78 455.24,235.51 455.87,237.45 456.5,238.03 457.13,240.94 457.75,243.06 458.38,239.37 459.01,235.51 459.77,222.92 460.78,197.75 461.53,222.92 462.29,235.51 463.29,230.48 464.3,240.54 465.31,235.51 465.94,240.01 466.56,243.06 467.19,239.81 467.82,235.51 468.45,237.42 469.08,238.03 469.71,236.62 470.34,235.51 470.97,232.6 471.6,230.48 472.23,229.92 472.86,227.96 473.61,228.5 474.37,230.19 475.12,231.73 475.71,233.65 476.29,234.25 476.92,234.18 477.55,232.99 478.18,229.59 478.81,227.96 479.44,222.93 480.07,217.89 480.82,212.86 481.58,220.41 482.58,225.44 483.21,224.87 483.84,224.18 484.47,223.98 485.1,222.92 485.73,223.76 486.36,225.44 486.99,225.28 487.62,226.7 488.25,224.13 488.88,222.92 489.51,221.76 490.14,220.41 490.77,217.9 491.39,216.63 492.02,213.46 492.65,210.34 493.28,206.72 493.91,202.79 494.54,201.93 495.17,201.53 495.8,199.84 496.43,197.75 497.06,193.87 497.69,191.46 498.44,192.72 499.2,200.27 500.2,204.05 500.83,206.53 501.46,210.34 502.09,210.75 502.72,212.86 503.35,212.49 503.98,210.34 504.61,209.81 505.24,209.08 505.87,211.46 506.5,212.86 507.13,211.02 507.75,207.82 508.51,202.79 509.27,197.75 510.02,210.34 510.78,217.89 511.78,220.41 512.79,217.89 513.42,213.73 514.05,210.34 514.68,213.57 515.31,217.89 515.94,219.57 516.56,222.92 517.19,222.7 517.82,224.18 518.45,224.91 519.08,225.44 519.71,222.19 520.34,217.89 520.97,215.85 521.6,215.37 522.23,218.01 522.86,220.41 523.49,224.03 524.12,227.96 524.74,229.94 525.37,232.99 526,234.39 526.63,235.51 527.26,236.92 527.89,238.03 528.52,236.01 529.15,235.51 529.78,234.46 530.41,232.99 531.04,230.36 531.67,227.96 532.3,230.13 532.92,232.99 533.55,236.05 534.18,238.03 534.81,238.51 535.44,240.54 536.07,242.12 536.7,243.06 537.33,241.35 537.96,240.54 538.59,240.82 539.22,241.8 539.7,241.56 539.7,241.8" fill="none" stroke="#ff0a0a" stroke-width="1.6" stroke-linejoin="round"/><rect x="316.2" y="160" width="223.8" height="111.4" fill="none" stroke="#6a6a6a" stroke-width="1"/><line x1="311" y1="271.4" x2="316.2" y2="271.4" stroke="#808080" stroke-width="1.0"/><line x1="313.6" y1="265.83" x2="316.2" y2="265.83" stroke="#9a9a9a" stroke-width="0.75"/><line x1="313.6" y1="260.26" x2="316.2" y2="260.26" stroke="#9a9a9a" stroke-width="0.75"/><line x1="313.6" y1="254.69" x2="316.2" y2="254.69" stroke="#9a9a9a" stroke-width="0.75"/><line x1="311" y1="249.12" x2="316.2" y2="249.12" stroke="#808080" stroke-width="1.0"/><line x1="313.6" y1="243.55" x2="316.2" y2="243.55" stroke="#9a9a9a" stroke-width="0.75"/><line x1="313.6" y1="237.98" x2="316.2" y2="237.98" stroke="#9a9a9a" stroke-width="0.75"/><line x1="313.6" y1="232.41" x2="316.2" y2="232.41" stroke="#9a9a9a" stroke-width="0.75"/><line x1="311" y1="226.84" x2="316.2" y2="226.84" stroke="#808080" stroke-width="1.0"/><line x1="313.6" y1="221.27" x2="316.2" y2="221.27" stroke="#9a9a9a" stroke-width="0.75"/><line x1="313.6" y1="215.7" x2="316.2" y2="215.7" stroke="#9a9a9a" stroke-width="0.75"/><line x1="313.6" y1="210.13" x2="316.2" y2="210.13" stroke="#9a9a9a" stroke-width="0.75"/><line x1="311" y1="204.56" x2="316.2" y2="204.56" stroke="#808080" stroke-width="1.0"/><line x1="313.6" y1="198.99" x2="316.2" y2="198.99" stroke="#9a9a9a" stroke-width="0.75"/><line x1="313.6" y1="193.42" x2="316.2" y2="193.42" stroke="#9a9a9a" stroke-width="0.75"/><line x1="313.6" y1="187.85" x2="316.2" y2="187.85" stroke="#9a9a9a" stroke-width="0.75"/><line x1="311" y1="182.28" x2="316.2" y2="182.28" stroke="#808080" stroke-width="1.0"/><line x1="313.6" y1="176.71" x2="316.2" y2="176.71" stroke="#9a9a9a" stroke-width="0.75"/><line x1="313.6" y1="171.14" x2="316.2" y2="171.14" stroke="#9a9a9a" stroke-width="0.75"/><line x1="313.6" y1="165.57" x2="316.2" y2="165.57" stroke="#9a9a9a" stroke-width="0.75"/><line x1="311" y1="160" x2="316.2" y2="160" stroke="#808080" stroke-width="1.0"/><text x="305.6" y="274.2" text-anchor="end" font-size="7.8">0.0</text><text x="305.6" y="251.92" text-anchor="end" font-size="7.8">0.2</text><text x="305.6" y="229.64" text-anchor="end" font-size="7.8">0.4</text><text x="305.6" y="207.36" text-anchor="end" font-size="7.8">0.6</text><text x="305.6" y="185.08" text-anchor="end" font-size="7.8">0.8</text><text x="305.6" y="162.8" text-anchor="end" font-size="7.8">1.0</text><line x1="540" y1="271.4" x2="540" y2="276.9" stroke="#6a6a6a" stroke-width="1"/><line x1="331.6" y1="268.1" x2="331.6" y2="271.4" stroke="#808080" stroke-width="0.9"/><line x1="380.5" y1="268.1" x2="380.5" y2="271.4" stroke="#808080" stroke-width="0.9"/><line x1="428.3" y1="268.1" x2="428.3" y2="271.4" stroke="#808080" stroke-width="0.9"/><line x1="476.7" y1="268.1" x2="476.7" y2="271.4" stroke="#808080" stroke-width="0.9"/><line x1="525" y1="268.1" x2="525" y2="271.4" stroke="#808080" stroke-width="0.9"/><line x1="347.4" y1="268.1" x2="347.4" y2="271.4" stroke="#808080" stroke-width="0.9"/><line x1="396.8" y1="268.1" x2="396.8" y2="271.4" stroke="#808080" stroke-width="0.9"/><line x1="444.4" y1="268.1" x2="444.4" y2="271.4" stroke="#808080" stroke-width="0.9"/><line x1="492.2" y1="268.1" x2="492.2" y2="271.4" stroke="#808080" stroke-width="0.9"/><text x="315.8" y="280" text-anchor="middle" font-size="5.9">11</text><text x="331.9" y="280" text-anchor="middle" font-size="5.9">12</text><text x="347.7" y="280" text-anchor="middle" font-size="5.9">01</text><text x="365.2" y="280" text-anchor="middle" font-size="5.9">11</text><text x="380.8" y="280" text-anchor="middle" font-size="5.9">12</text><text x="397.1" y="280" text-anchor="middle" font-size="5.9">01</text><text x="412.6" y="280" text-anchor="middle" font-size="5.9">11</text><text x="428.6" y="280" text-anchor="middle" font-size="5.9">12</text><text x="444.7" y="280" text-anchor="middle" font-size="5.9">01</text><text x="461.2" y="280" text-anchor="middle" font-size="5.9">11</text><text x="477" y="280" text-anchor="middle" font-size="5.9">12</text><text x="492.5" y="280" text-anchor="middle" font-size="5.9">01</text><text x="509.6" y="280" text-anchor="middle" font-size="5.9">11</text><text x="525.3" y="280" text-anchor="middle" font-size="5.9">12</text><text x="540.3" y="280" text-anchor="middle" font-size="5.9">01</text><text x="315.5" y="288.1" text-anchor="middle" font-size="8.1">2015</text><text x="347.4" y="288.1" text-anchor="middle" font-size="8.1">2016</text><text x="396.8" y="288.1" text-anchor="middle" font-size="8.1">2017</text><text x="444.4" y="288.1" text-anchor="middle" font-size="8.1">2018</text><text x="492.2" y="288.1" text-anchor="middle" font-size="8.1">2019</text><text x="540" y="288.1" text-anchor="middle" font-size="8.1">2020</text><text transform="translate(290.2,215.7) rotate(-90)" text-anchor="middle" font-size="10">FAR</text><text x="315.9" y="157.4" font-size="8.6">(d)</text><line x1="346.3" y1="154.4" x2="364.5" y2="154.4" stroke="#0a0aff" stroke-width="1.1"/><text x="365.9" y="157.3" font-size="7.8">CLM3.5</text><line x1="414.7" y1="154.4" x2="432.9" y2="154.4" stroke="#10e810" stroke-width="1.1"/><text x="434.3" y="157.3" font-size="7.8">Noah</text><line x1="472.8" y1="154.4" x2="491" y2="154.4" stroke="#ff0a0a" stroke-width="1.1"/><text x="492.4" y="157.3" font-size="7.8">Noah-MP</text></g>
<g><line x1="93.7" y1="308" x2="93.7" y2="419.9" stroke="#333" stroke-width="0.9" stroke-dasharray="1.1,1.5"/><line x1="141.2" y1="308" x2="141.2" y2="419.9" stroke="#333" stroke-width="0.9" stroke-dasharray="1.1,1.5"/><line x1="190.1" y1="308" x2="190.1" y2="419.9" stroke="#333" stroke-width="0.9" stroke-dasharray="1.1,1.5"/><line x1="238.5" y1="308" x2="238.5" y2="419.9" stroke="#333" stroke-width="0.9" stroke-dasharray="1.1,1.5"/><polyline points="46.1,370.92 46.26,388.54 47.01,406.16 47.77,383.51 48.52,345.75 49.28,335.69 50.03,348.27 50.79,365.89 51.54,358.34 52.3,378.48 53.05,401.13 53.81,378.48 54.56,350.79 55.32,340.72 56.07,353.31 56.83,368.41 57.58,379.73 58.34,370.92 59.1,358.34 59.85,369.67 60.61,353.31 61.36,338.2 62.12,328.14 63.12,325.62 64.13,326.88 65.14,330.65 66.14,338.2 67.15,345.75 68.16,350.79 69.16,348.27 70.17,345.75 70.8,342.62 71.43,340.72 72.06,336.85 72.69,333.17 73.32,332.61 73.95,330.65 74.57,329.48 75.2,328.14 75.83,328.46 76.46,329.39 77.09,329.77 77.72,330.65 78.35,329.38 78.98,328.14 79.61,328.79 80.24,330.65 80.87,333.66 81.5,335.69 82.25,353.31 83.01,338.2 84.01,330.65 84.64,328.82 85.27,328.14 85.9,330.32 86.53,333.17 87.29,363.37 88.04,333.17 89.05,328.14 89.68,328.4 90.31,329.39 90.94,331.22 91.56,333.17 92.32,345.75 93.07,383.51 93.83,401.13 94.58,383.51 95.34,358.34 95.45,365.14 95.94,348.82 96.59,332.49 97.24,322.69 97.9,317.8 98.71,314.53 99.53,316.16 100.35,317.8 101.16,321.06 101.98,324.33 102.8,327.59 103.61,337.39 104.1,350.45 104.59,337.39 105.08,327.59 105.73,325.96 106.39,329.22 107.04,327.59 107.69,340.65 108.35,342.29 109,332.49 109.65,325.96 110.31,329.22 110.96,340.65 111.61,337.39 112.27,327.59 112.92,330.86 113.57,334.12 114.22,327.59 114.88,325.96 115.53,329.22 116.18,332.49 116.84,325.96 117.49,324.33 118.31,330.86 119.12,340.65 119.78,347.18 120.43,340.65 121.08,348.82 121.73,356.98 122.39,340.65 123.04,330.86 123.69,327.59 124.35,329.22 125,334.12 125.65,324.33 126.47,321.06 127.29,322.69 127.94,337.39 128.59,350.45 129.24,332.49 129.9,324.33 130.55,322.69 131.37,321.06 132.18,319.43 133,321.06 133.82,320.24 134.63,322.69 135.12,332.49 135.78,325.96 136.43,321.06 137.08,322.69 137.9,321.88 138.71,324.33 139.53,325.96 140.35,329.22 141,334.12 141.31,393.58 142.07,403.65 142.82,383.51 143.58,370.92 144.33,396.09 145.09,383.51 145.84,358.34 146.85,338.2 147.86,330.65 148.49,332.31 149.12,333.17 150.12,331.91 150.29,340.72 151.04,348.27 151.8,345.75 152.55,335.69 153.31,340.72 154.06,343.24 154.82,348.27 155.57,354.56 156.33,345.75 157.08,338.2 157.84,333.17 158.59,328.14 159.35,323.1 160.1,320.58 160.86,325.62 161.61,330.65 162.37,333.17 163.12,345.75 163.88,365.89 164.63,345.75 165.39,333.17 166.14,328.14 166.9,323.1 167.65,320.58 168.41,325.62 169.16,323.1 169.92,328.14 170.67,333.17 171.43,330.65 172.18,338.2 172.94,343.24 173.69,348.27 174.45,370.92 175.2,338.2 175.96,328.14 176.71,323.1 177.47,325.62 178.22,328.14 178.98,333.17 179.73,340.72 180.49,348.27 181.24,355.82 182,358.34 182.75,355.82 183.51,348.27 184.27,345.75 185.02,343.24 185.78,338.2 186.53,345.75 187.29,358.34 188.04,370.92 188.8,378.48 189.55,391.06 190.31,397.35 190.45,373.36 191.27,376.63 192.08,370.09 192.9,357.02 193.72,361.92 194.54,350.48 195.35,353.75 196.17,343.95 196.99,340.68 197.8,345.58 198.62,350.48 199.44,343.95 200.25,347.22 201.07,352.12 201.89,343.95 202.71,340.68 203.52,345.58 204.34,348.85 205.16,340.68 205.97,345.58 206.79,353.75 207.61,345.58 208.42,337.41 209.24,340.68 210.06,334.14 210.88,340.68 211.69,335.78 212.51,332.51 213.33,329.24 214.14,332.51 214.96,340.68 215.78,348.85 216.59,340.68 217.41,335.78 218.23,361.92 219.05,340.68 219.86,334.14 220.68,335.78 221.5,337.41 222.31,330.88 223.13,325.97 223.95,324.34 224.76,327.61 225.58,352.12 226.4,332.51 227.22,324.34 228.03,321.07 228.85,319.44 229.67,317.8 230.48,322.71 231.3,327.61 232.12,321.07 232.93,316.17 233.75,314.54 234.57,316.17 235.39,317.8 236.2,321.07 236.59,352.44 237.38,354.03 237.86,347.68 238.49,344.51 238.97,349.27 239.44,346.1 240.08,339.75 240.71,334.98 241.35,338.16 241.98,346.1 242.62,355.62 243.25,361.97 243.89,347.68 244.52,331.81 245.16,323.87 245.79,320.7 246.43,327.05 247.06,323.87 247.7,320.7 248.49,317.52 249.29,325.46 249.92,334.98 250.4,327.05 250.87,319.11 251.51,317.52 252.14,355.62 252.78,336.57 253.41,323.87 254.05,317.52 254.84,319.11 255.63,320.7 256.43,319.11 257.22,317.52 258.02,315.94 258.81,317.52 259.6,320.7 260.4,331.81 260.87,325.46 261.35,317.52 261.98,314.35 262.78,312.76 263.57,311.17 264.37,312.76 265.16,314.35 265.95,319.11 266.75,315.94 267.54,312.76 268.33,314.35 268.7,315.14" fill="none" stroke="#0a0aff" stroke-width="1.6" stroke-linejoin="round"/><polyline points="46.1,345.75 46.26,333.17 47.01,323.1 47.77,318.07 48.52,313.03 49.28,311.78 50.03,315.55 50.79,323.1 51.54,315.55 52.3,310.52 53.05,309.26 53.81,313.03 54.56,310.52 55.32,309.26 56.07,311.78 56.83,315.55 57.58,310.52 58.21,309.94 58.84,309.26 59.47,309.64 60.1,309.26 60.73,310.65 61.36,310.52 61.99,309.17 62.62,309.26 63.25,309.46 63.88,310.52 64.51,310.38 65.14,311.78 65.77,312.82 66.39,313.03 67.02,312.45 67.65,311.78 68.28,310.99 68.91,310.52 69.54,312.3 70.17,313.03 70.8,313.94 71.43,314.29 72.06,314.25 72.69,315.55 73.32,316.15 73.95,316.81 74.57,316.83 75.2,318.07 75.83,317.25 76.46,315.55 77.09,314.47 77.72,314.29 78.35,313.66 78.98,313.03 79.61,311.67 80.24,311.78 80.87,311.57 81.5,310.52 82.13,309.16 82.75,309.26 83.38,310.51 84.01,311.78 84.64,312.46 85.27,313.03 85.9,311.8 86.53,311.78 87.16,310.97 87.79,310.52 88.42,310.9 89.05,311.78 89.68,310.61 90.31,310.52 90.94,309.28 91.56,309.26 92.32,315.55 93.07,338.2 93.83,358.34 94.58,333.17 95.34,318.07 95.45,348.82 95.94,332.49 96.59,317.8 97.24,311.27 97.9,309.63 98.71,308.82 99.53,308.82 100.35,308.61 101.16,309.63 101.98,310.45 102.8,309.63 103.61,310.45 104.43,308.82 105.24,309.63 106.06,308.82 106.88,309.63 107.69,310.45 108.51,309.63 109.33,308.82 110.14,309.63 110.96,310.45 111.78,309.63 112.59,308.82 113.41,309.26 114.22,309.63 115.04,309.39 115.86,310.45 116.67,309.95 117.49,309.63 118.31,310.37 119.12,310.45 119.94,311.27 120.76,312.08 121.57,312.9 122.39,311.27 123.2,309.63 124.02,308.82 124.84,308.61 125.65,308.82 126.47,309.53 127.29,309.63 128.1,312.08 128.92,312.9 129.73,310.45 130.55,308.82 131.37,309.58 132.18,308.82 133,309.39 133.82,308.82 134.63,309.71 135.45,309.63 136.27,309.9 137.08,308.82 137.9,309.39 138.71,309.63 139.53,311.16 140.35,311.27 141,314.53 141.31,333.17 142.07,345.75 142.82,328.14 143.58,318.07 144.33,323.1 145.09,315.55 145.84,310.52 146.85,309.26 147.94,309.53 149.03,309.65 150.12,309.26 150.29,310.52 151.04,309.26 151.8,310.52 152.55,309.26 153.18,309.36 153.81,310.52 154.44,309.72 155.07,309.26 155.7,310.23 156.33,310.52 156.96,310.35 157.58,309.26 158.21,309.68 158.84,309.26 159.47,308.62 160.1,309.26 160.73,309.77 161.36,309.26 161.99,310.42 162.62,310.52 163.25,310.6 163.88,311.78 164.51,310.78 165.14,309.26 165.97,308.68 166.81,309.36 167.65,309.26 168.49,308.63 169.33,309.48 170.17,309.26 171.01,308.77 171.85,309.37 172.69,309.26 173.32,309.85 173.95,310.52 174.57,310.27 175.2,309.26 176.04,308.5 176.88,309.41 177.72,309.26 178.35,309.65 178.98,310.52 179.61,311.27 180.24,313.03 180.87,313.74 181.5,315.55 182.13,314.23 182.75,314.29 183.38,314.45 184.01,313.03 184.64,313.05 185.27,311.78 185.9,312.4 186.53,313.03 187.16,314.23 187.79,315.55 188.8,318.07 189.55,323.1 190.31,333.17 190.45,322.71 191.27,321.07 192.08,317.8 192.9,314.54 193.72,312.9 194.54,311.27 195.35,310.45 196.17,309.63 196.99,310.45 197.8,311.27 198.62,309.63 199.44,311.27 200.25,312.9 201.07,314.54 201.89,316.17 202.71,314.54 203.52,312.9 204.34,314.54 205.16,316.17 205.97,317.8 206.79,316.99 207.61,316.17 208.42,314.54 209.24,315.35 210.06,312.9 210.88,311.27 211.69,312.9 212.51,314.54 213.33,312.9 214.14,311.27 214.96,312.08 215.78,312.9 216.59,311.27 217.41,309.63 218.23,310.45 219.05,311.27 219.86,309.63 220.68,310.45 221.5,309.9 222.31,309.63 223.13,309.2 223.95,309.63 224.76,309.52 225.58,310.45 226.4,308.94 227.22,308.82 228.03,308.4 228.85,308.82 229.67,309.6 230.48,308.82 231.3,309.81 232.12,309.63 232.93,309.29 233.75,309.63 234.57,310.5 235.39,311.27 236.2,312.9 236.59,317.52 237.22,323.87 237.7,330.22 238.17,323.87 238.81,317.52 239.44,314.35 240.08,312.76 240.71,314.35 241.35,312.76 241.98,311.17 242.62,312.76 243.25,311.17 243.89,310.38 244.52,311.17 245.16,310.38 245.79,309.59 246.43,310.38 247.06,309.59 247.7,311.17 248.49,310.38 249.29,309.59 250.08,310.38 250.87,309.59 251.67,308.76 252.46,308.79 253.25,309.59 254.05,308.79 254.84,308.62 255.63,308.79 256.43,308.75 257.22,308.79 258.02,309.12 258.81,308.79 259.6,308.43 260.4,308.79 261.19,308.95 261.98,308.79 262.78,308.4 263.57,308.79 264.37,309.57 265.16,308.79 265.95,309.53 266.75,308.79 267.78,308.87 268.7,308.79" fill="none" stroke="#10e810" stroke-width="1.6" stroke-linejoin="round"/><polyline points="46.1,388.54 46.26,368.41 47.01,343.24 47.77,333.17 48.52,325.62 49.28,323.1 50.03,333.17 50.79,348.27 51.54,338.2 52.3,325.62 53.05,320.58 53.81,328.14 54.56,321.84 55.32,318.07 56.07,325.62 56.83,333.17 57.58,323.1 58.21,320.08 58.84,318.07 59.47,317.29 60.1,315.55 60.73,315.42 61.36,316.81 61.99,316.7 62.62,318.07 63.25,320.06 63.88,320.58 64.51,321.35 65.14,323.1 65.77,325.02 66.39,325.62 67.02,323.74 67.65,323.1 68.28,322.08 68.91,320.58 69.54,322.74 70.17,324.36 70.8,324.77 71.43,325.62 72.06,324.54 72.69,323.1 73.32,322.86 73.95,321.84 74.57,321.23 75.2,320.58 75.83,320.64 76.46,321.84 77.09,322.53 77.72,323.1 78.35,322.62 78.98,320.58 79.61,318.58 80.24,318.07 80.87,320.92 81.5,323.1 82.25,328.14 83.01,320.58 84.01,318.07 84.64,319.43 85.27,319.33 85.9,320.01 86.53,321.84 87.29,335.69 88.04,323.1 89.05,319.33 89.68,318.02 90.31,318.07 90.94,317.03 91.56,316.81 92.32,323.1 93.07,358.34 93.83,393.58 94.58,370.92 95.34,338.2 95.45,376.57 95.94,356.98 96.59,332.49 97.24,317.8 97.9,312.9 98.71,310.45 99.53,309.63 100.35,311.27 101.16,314.53 101.98,317.8 102.8,321.06 103.61,322.69 104.1,324.33 104.59,319.43 105.08,317.8 105.73,316.16 106.39,319.43 107.04,321.06 107.69,322.69 108.35,319.43 109,316.16 109.65,314.53 110.31,312.9 110.96,314.53 111.61,317.8 112.27,319.43 112.92,316.16 113.57,314.53 114.22,312.9 114.88,314.53 115.53,317.8 116.18,316.16 116.84,314.53 117.49,312.9 118.31,314.53 119.12,317.8 119.78,321.06 120.43,327.59 121.08,332.49 121.73,340.65 122.39,332.49 123.04,321.06 123.69,314.53 124.35,312.9 125,314.53 125.65,317.8 126.47,316.16 127.29,321.06 127.94,330.86 128.59,337.39 129.24,324.33 129.9,316.16 130.55,312.9 131.37,311.27 132.18,310.45 133,311.27 133.82,310.45 134.63,311.27 135.45,312.08 136.27,311.27 137.08,312.08 137.9,311.27 138.71,312.9 139.53,314.53 140.35,317.8 141,324.33 141.31,370.92 142.07,383.51 142.82,358.34 143.58,338.2 144.08,332.51 144.9,324.34 145.72,323.08 146.54,321.07 147.35,319.2 148.17,317.8 148.99,321.07 149.8,317.8 150.62,321.07 151.44,322.71 152.25,317.8 153.07,319.44 153.89,321.07 154.71,324.34 155.52,317.8 156.34,314.54 157.16,311.27 157.97,312.9 158.79,314.54 159.61,312.9 160.42,311.27 161.24,314.54 162.06,317.8 162.88,324.34 163.69,327.61 164.51,334.14 165.33,324.34 166.14,314.54 166.96,311.27 167.78,309.63 168.59,311.27 169.41,309.63 170.23,311.27 171.05,310.45 171.86,311.27 172.68,309.63 173.5,312.9 174.31,317.8 175.13,314.54 175.95,312.9 176.76,317.8 177.58,324.34 178.4,332.51 179.22,337.41 180.03,343.95 180.85,337.41 181.67,327.61 182.48,321.07 183.3,317.8 184.12,316.17 184.93,314.54 185.75,312.9 186.57,316.17 187.39,312.9 188.04,330.65 188.8,338.2 189.55,353.31 190.31,368.41 190.45,348.85 191.27,340.68 192.08,337.41 192.9,329.24 193.72,325.97 194.54,324.34 195.35,327.61 196.17,324.34 196.99,322.71 197.8,325.97 198.62,321.07 199.44,319.44 200.25,322.71 201.07,327.61 201.89,324.34 202.71,321.07 203.52,317.8 204.34,322.71 205.16,327.61 205.97,330.88 206.79,332.51 207.61,329.24 208.42,324.34 209.24,321.07 210.06,322.71 210.88,319.44 211.69,317.8 212.51,316.17 213.33,319.44 214.14,322.71 214.96,321.07 215.78,317.8 216.59,319.44 217.41,316.17 218.23,317.8 219.05,314.54 219.86,316.17 220.68,312.9 221.5,314.54 222.31,312.9 223.13,314.54 223.95,311.27 224.76,312.9 225.58,316.17 226.4,312.9 227.22,311.27 228.03,309.63 228.85,310.45 229.67,311.27 230.48,309.63 231.3,310.45 232.12,311.27 232.93,309.63 233.75,310.45 234.57,311.27 235.39,312.9 236.2,317.8 236.59,336.57 237.22,355.62 237.7,360.38 238.17,355.62 238.81,339.75 239.44,327.05 240.08,323.87 240.71,320.7 241.35,319.11 241.98,322.29 242.62,319.11 243.25,320.7 243.89,317.52 244.52,315.94 245.16,314.35 245.79,315.94 246.43,317.52 247.06,315.14 247.7,314.35 248.49,312.76 249.29,315.94 249.92,317.52 250.56,314.35 251.19,312.76 251.83,313.56 252.46,314.35 253.25,312.76 254.05,311.97 254.84,312.76 255.63,311.17 256.43,310.38 257.22,311.17 258.02,310.86 258.81,310.38 259.6,311.17 260.4,311.97 261.19,310.86 261.98,310.38 262.78,309.59 263.57,309.9 264.37,309.27 265.16,309.59 265.95,309.9 266.75,309.27 267.54,309.59 268.33,310.38 268.7,311.17" fill="none" stroke="#ff0a0a" stroke-width="1.6" stroke-linejoin="round"/><rect x="45.8" y="308" width="223.2" height="111.9" fill="none" stroke="#6a6a6a" stroke-width="1"/><line x1="40.6" y1="416.54" x2="45.8" y2="416.54" stroke="#808080" stroke-width="1.0"/><line x1="43.2" y1="411.11" x2="45.8" y2="411.11" stroke="#9a9a9a" stroke-width="0.75"/><line x1="43.2" y1="405.68" x2="45.8" y2="405.68" stroke="#9a9a9a" stroke-width="0.75"/><line x1="43.2" y1="400.26" x2="45.8" y2="400.26" stroke="#9a9a9a" stroke-width="0.75"/><line x1="40.6" y1="394.83" x2="45.8" y2="394.83" stroke="#808080" stroke-width="1.0"/><line x1="43.2" y1="389.4" x2="45.8" y2="389.4" stroke="#9a9a9a" stroke-width="0.75"/><line x1="43.2" y1="383.97" x2="45.8" y2="383.97" stroke="#9a9a9a" stroke-width="0.75"/><line x1="43.2" y1="378.55" x2="45.8" y2="378.55" stroke="#9a9a9a" stroke-width="0.75"/><line x1="40.6" y1="373.12" x2="45.8" y2="373.12" stroke="#808080" stroke-width="1.0"/><line x1="43.2" y1="367.69" x2="45.8" y2="367.69" stroke="#9a9a9a" stroke-width="0.75"/><line x1="43.2" y1="362.27" x2="45.8" y2="362.27" stroke="#9a9a9a" stroke-width="0.75"/><line x1="43.2" y1="356.84" x2="45.8" y2="356.84" stroke="#9a9a9a" stroke-width="0.75"/><line x1="40.6" y1="351.41" x2="45.8" y2="351.41" stroke="#808080" stroke-width="1.0"/><line x1="43.2" y1="345.99" x2="45.8" y2="345.99" stroke="#9a9a9a" stroke-width="0.75"/><line x1="43.2" y1="340.56" x2="45.8" y2="340.56" stroke="#9a9a9a" stroke-width="0.75"/><line x1="43.2" y1="335.13" x2="45.8" y2="335.13" stroke="#9a9a9a" stroke-width="0.75"/><line x1="40.6" y1="329.71" x2="45.8" y2="329.71" stroke="#808080" stroke-width="1.0"/><line x1="43.2" y1="324.28" x2="45.8" y2="324.28" stroke="#9a9a9a" stroke-width="0.75"/><line x1="43.2" y1="318.85" x2="45.8" y2="318.85" stroke="#9a9a9a" stroke-width="0.75"/><line x1="43.2" y1="313.43" x2="45.8" y2="313.43" stroke="#9a9a9a" stroke-width="0.75"/><line x1="40.6" y1="308" x2="45.8" y2="308" stroke="#808080" stroke-width="1.0"/><text x="35.2" y="419.34" text-anchor="end" font-size="7.8">0.0</text><text x="35.2" y="397.63" text-anchor="end" font-size="7.8">0.2</text><text x="35.2" y="375.92" text-anchor="end" font-size="7.8">0.4</text><text x="35.2" y="354.21" text-anchor="end" font-size="7.8">0.6</text><text x="35.2" y="332.51" text-anchor="end" font-size="7.8">0.8</text><text x="35.2" y="310.8" text-anchor="end" font-size="7.8">1.0</text><line x1="269" y1="419.9" x2="269" y2="425.4" stroke="#6a6a6a" stroke-width="1"/><line x1="61.4" y1="416.6" x2="61.4" y2="419.9" stroke="#808080" stroke-width="0.9"/><line x1="109.3" y1="416.6" x2="109.3" y2="419.9" stroke="#808080" stroke-width="0.9"/><line x1="157.3" y1="416.6" x2="157.3" y2="419.9" stroke="#808080" stroke-width="0.9"/><line x1="205.7" y1="416.6" x2="205.7" y2="419.9" stroke="#808080" stroke-width="0.9"/><line x1="254" y1="416.6" x2="254" y2="419.9" stroke="#808080" stroke-width="0.9"/><line x1="76.7" y1="416.6" x2="76.7" y2="419.9" stroke="#808080" stroke-width="0.9"/><line x1="125.2" y1="416.6" x2="125.2" y2="419.9" stroke="#808080" stroke-width="0.9"/><line x1="173.3" y1="416.6" x2="173.3" y2="419.9" stroke="#808080" stroke-width="0.9"/><line x1="221.7" y1="416.6" x2="221.7" y2="419.9" stroke="#808080" stroke-width="0.9"/><text x="45.8" y="428.5" text-anchor="middle" font-size="5.9">11</text><text x="61.7" y="428.5" text-anchor="middle" font-size="5.9">12</text><text x="77" y="428.5" text-anchor="middle" font-size="5.9">01</text><text x="94" y="428.5" text-anchor="middle" font-size="5.9">11</text><text x="109.6" y="428.5" text-anchor="middle" font-size="5.9">12</text><text x="125.5" y="428.5" text-anchor="middle" font-size="5.9">01</text><text x="141.5" y="428.5" text-anchor="middle" font-size="5.9">11</text><text x="157.6" y="428.5" text-anchor="middle" font-size="5.9">12</text><text x="173.6" y="428.5" text-anchor="middle" font-size="5.9">01</text><text x="190.4" y="428.5" text-anchor="middle" font-size="5.9">11</text><text x="206" y="428.5" text-anchor="middle" font-size="5.9">12</text><text x="222" y="428.5" text-anchor="middle" font-size="5.9">01</text><text x="238.8" y="428.5" text-anchor="middle" font-size="5.9">11</text><text x="254.3" y="428.5" text-anchor="middle" font-size="5.9">12</text><text x="269.3" y="428.5" text-anchor="middle" font-size="5.9">01</text><text x="45.5" y="436.6" text-anchor="middle" font-size="8.1">2015</text><text x="76.7" y="436.6" text-anchor="middle" font-size="8.1">2016</text><text x="125.2" y="436.6" text-anchor="middle" font-size="8.1">2017</text><text x="173.3" y="436.6" text-anchor="middle" font-size="8.1">2018</text><text x="221.7" y="436.6" text-anchor="middle" font-size="8.1">2019</text><text x="269" y="436.6" text-anchor="middle" font-size="8.1">2020</text><text transform="translate(16.6,363.95) rotate(-90)" text-anchor="middle" font-size="10">POD</text><text x="45.5" y="305.4" font-size="8.6">(e)</text><line x1="74.7" y1="302.4" x2="92.9" y2="302.4" stroke="#0a0aff" stroke-width="1.1"/><text x="94.3" y="305.3" font-size="7.8">CLM3.5</text><line x1="142.5" y1="302.4" x2="160.7" y2="302.4" stroke="#10e810" stroke-width="1.1"/><text x="162.1" y="305.3" font-size="7.8">Noah</text><line x1="201.9" y1="302.4" x2="220.1" y2="302.4" stroke="#ff0a0a" stroke-width="1.1"/><text x="221.5" y="305.3" font-size="7.8">Noah-MP</text></g>
<g><line x1="364" y1="308.5" x2="364" y2="420.3" stroke="#333" stroke-width="0.9" stroke-dasharray="1.1,1.5"/><line x1="412.2" y1="308.5" x2="412.2" y2="420.3" stroke="#333" stroke-width="0.9" stroke-dasharray="1.1,1.5"/><line x1="461.2" y1="308.5" x2="461.2" y2="420.3" stroke="#333" stroke-width="0.9" stroke-dasharray="1.1,1.5"/><line x1="509.3" y1="308.5" x2="509.3" y2="420.3" stroke="#333" stroke-width="0.9" stroke-dasharray="1.1,1.5"/><polyline points="316.5,391.06 316.51,403.65 317.27,383.51 318.02,358.34 318.78,345.75 319.53,353.31 320.29,365.89 321.04,350.79 321.8,343.24 322.55,358.34 323.31,370.92 324.06,358.34 324.82,345.75 325.57,333.17 326.33,345.75 327.08,370.92 327.84,380.99 328.59,365.89 329.35,375.96 330.1,358.34 330.86,353.31 331.61,345.75 332.62,330.65 333.63,328.14 334.63,333.17 335.64,338.2 336.65,343.24 337.65,348.27 338.66,350.79 339.67,348.27 340.67,343.24 341.68,340.72 342.69,335.69 343.69,333.17 344.7,335.69 345.71,334.43 346.71,333.17 347.72,335.69 348.73,333.17 349.73,335.69 350.74,333.17 351.75,335.69 352.75,340.72 353.51,355.82 354.27,345.75 355.27,340.72 356.28,345.75 357.29,353.31 358.04,365.89 358.8,368.41 359.55,360.86 360.31,353.31 361.31,345.75 362.32,340.72 363.07,370.92 363.83,393.58 364.58,401.13 365.34,383.51 366.09,358.34 366.85,348.27 367.86,338.2 368.49,336.02 369.12,333.17 370.12,328.14 370.29,325.62 371.04,330.65 371.8,323.1 372.55,320.58 373.31,328.14 374.06,333.17 374.82,353.31 375.57,338.2 376.33,330.65 377.08,333.17 377.84,338.2 378.59,330.65 379.35,325.62 380.1,328.14 380.86,335.69 381.61,343.24 382.37,338.2 383.12,330.65 383.88,325.62 384.63,328.14 385.39,335.69 386.14,330.65 386.9,325.62 387.65,328.14 388.41,323.1 389.16,328.14 389.92,338.2 390.67,343.24 391.43,348.27 392.18,358.34 392.94,363.37 393.69,355.82 394.45,348.27 395.2,338.2 395.96,330.65 396.71,333.17 397.47,338.2 398.22,345.75 398.98,338.2 399.73,333.17 400.49,335.69 401.24,340.72 402,335.69 402.75,330.65 403.51,325.62 404.27,328.14 405.02,330.65 405.78,333.17 406.53,328.14 407.29,325.62 408.04,330.65 408.8,333.17 409.55,335.69 410.31,338.2 411.06,343.24 411.82,368.41 412.57,396.09 413.33,406.16 414.08,391.06 414.84,393.58 415.59,403.65 416.35,370.92 417.1,345.75 417.86,335.69 418.61,333.17 419.37,332.62 420.12,330.65 420.29,345.75 421.04,338.2 421.8,345.75 422.55,350.79 423.31,343.24 424.06,348.27 424.82,353.31 425.57,358.34 426.33,355.82 427.08,350.79 427.84,345.75 428.59,343.24 429.35,340.72 430.1,335.69 430.86,338.2 431.61,335.69 432.37,333.17 433.12,338.2 433.88,353.31 434.63,369.67 435.39,348.27 436.14,343.24 436.9,340.72 437.65,343.24 438.41,345.75 439.16,343.24 439.92,340.72 440.67,338.2 441.43,335.69 442.18,338.2 442.94,348.27 443.69,358.34 444.45,374.7 445.2,353.31 445.96,343.24 446.71,338.2 447.47,340.72 448.22,345.75 448.98,358.34 449.73,350.79 450.49,340.72 451.24,343.24 452,348.27 452.75,340.72 453.51,338.2 454.27,335.69 455.02,333.17 455.78,338.2 456.53,345.75 457.29,355.82 458.04,363.37 458.8,365.89 459.55,370.92 460.31,383.51 461.06,398.61 461.35,382.09 462.09,357.91 462.84,352.33 463.58,367.21 464.33,378.37 465.07,367.21 465.81,348.6 466.56,337.44 467.3,344.88 468.23,352.33 469.16,357.91 470.09,354.19 471.02,348.6 471.95,357.91 472.88,354.19 473.81,350.47 474.74,344.88 475.67,339.3 476.6,337.44 477.53,344.88 478.47,363.49 479.4,359.77 480.33,356.05 481.26,363.49 482.19,357.91 483.12,356.05 484.05,352.33 484.98,350.47 485.91,348.6 486.84,347.67 487.77,350.47 488.7,354.19 489.63,357.91 490.56,363.49 491.49,359.77 492.42,357.91 493.35,356.05 494.28,355.12 495.21,354.19 496.14,357.91 497.07,361.63 498,363.49 498.93,361.63 499.86,359.77 500.79,357.91 501.72,356.05 502.65,354.19 503.58,352.33 504.51,350.47 505.44,348.6 506.37,347.67 507.3,350.47 508.23,354.19 508.8,363.37 509.55,365.89 510.31,358.34 511.06,353.31 511.82,355.82 512.57,350.79 513.33,348.27 514.08,353.31 514.84,345.75 515.59,338.2 516.35,333.17 517.1,330.65 517.86,335.69 518.61,333.17 519.37,338.2 520.12,345.75 520.88,350.79 521.63,343.24 522.39,335.69 523.14,333.17 523.9,338.2 524.65,343.24 525.41,340.72 526.16,335.69 526.92,338.2 527.67,333.17 528.43,330.65 529.18,335.69 529.94,338.2 530.69,333.17 531.45,330.65 532.2,333.17 532.96,330.65 533.71,328.14 534.47,325.62 535.22,324.36 535.98,328.14 536.73,330.65 537.49,328.14 538.24,330.65 539,328.14 539.2,329.39" fill="none" stroke="#0a0aff" stroke-width="1.6" stroke-linejoin="round"/><polyline points="316.5,348.27 316.51,345.75 317.27,365.89 318.02,370.92 318.78,358.34 319.53,350.79 320.29,345.75 321.04,358.34 321.8,378.48 322.55,391.06 323.31,398.61 324.06,383.51 324.82,365.89 325.57,345.75 326.33,333.17 327.08,340.72 327.84,353.31 328.59,360.86 329.35,350.79 330.1,343.24 330.86,338.2 331.61,333.17 332.62,330.65 333.63,333.17 334.63,335.69 335.64,340.72 336.65,338.2 337.65,335.69 338.66,333.17 339.67,331.91 340.67,333.17 341.68,330.65 342.69,331.91 343.69,333.17 344.7,329.39 345.71,328.14 346.71,330.65 347.72,333.17 348.73,331.91 349.73,333.17 350.74,335.69 351.75,338.2 352.75,343.24 353.51,348.27 354.27,345.75 355.27,343.24 356.28,345.75 357.29,348.27 358.04,350.79 358.8,353.31 359.55,348.27 360.31,345.75 361.31,343.24 362.32,348.27 363.07,363.37 363.83,373.44 364.58,363.37 365.34,350.79 366.09,343.24 366.85,338.2 367.86,340.72 368.49,342.21 369.12,343.24 370.12,345.75 370.29,328.14 371.04,325.62 371.8,323.1 372.55,321.84 373.31,325.62 374.06,335.69 374.82,345.75 375.57,350.79 376.33,362.12 377.08,345.75 377.84,333.17 378.59,328.14 379.35,325.62 380.1,323.1 380.86,328.14 381.61,333.17 382.37,330.65 383.12,323.1 383.88,320.58 384.63,325.62 385.39,333.17 386.14,330.65 386.9,328.14 387.65,325.62 388.41,323.1 389.16,328.14 389.92,338.2 390.67,348.27 391.43,350.79 392.18,343.24 392.94,338.2 393.69,335.69 394.45,340.72 395.2,345.75 395.96,338.2 396.71,333.17 397.47,330.65 398.22,335.69 398.98,333.17 399.73,328.14 400.49,330.65 401.24,335.69 402,333.17 402.75,330.65 403.51,328.14 404.27,325.62 405.02,323.1 405.78,328.14 406.53,325.62 407.29,323.1 408.04,320.58 408.8,319.33 409.55,325.62 410.31,330.65 411.06,335.69 411.82,350.79 412.57,370.92 413.33,378.48 414.08,370.92 414.84,365.89 415.59,360.86 416.35,353.31 417.1,340.72 417.86,335.69 418.61,333.17 419.37,333.14 420.12,333.17 420.29,338.2 421.04,340.72 421.8,338.2 422.55,335.69 423.31,336.95 424.06,338.2 424.82,335.69 425.57,333.17 426.33,334.43 427.08,333.17 427.84,335.69 428.59,334.43 429.35,333.17 430.1,330.65 430.86,328.14 431.61,326.88 432.37,330.65 433.12,333.17 433.88,335.69 434.63,338.2 435.39,335.69 436.14,333.17 436.9,335.69 437.65,338.2 438.41,335.69 439.16,333.17 439.92,335.69 440.67,333.17 441.43,331.91 442.18,330.65 442.94,328.14 443.69,333.17 444.45,326.88 445.2,330.65 445.96,333.17 446.71,335.69 447.47,338.2 448.22,335.69 448.98,333.17 449.73,335.69 450.49,338.2 451.24,340.72 452,338.2 452.75,335.69 453.51,333.17 454.27,335.69 455.02,338.2 455.78,335.69 456.53,338.2 457.29,343.24 458.04,348.27 458.8,350.79 459.55,358.34 460.31,368.41 461.06,378.48 461.35,363.49 462.09,354.19 462.84,350.47 463.58,348.6 464.51,346.74 465.44,344.88 466.37,343.02 467.3,341.16 468.23,344.88 469.16,346.74 470.09,348.6 471.02,350.47 471.95,352.33 472.88,356.05 473.81,354.19 474.74,350.47 475.67,348.6 476.6,354.19 477.53,357.91 478.47,367.21 479.4,376.51 480.33,382.09 481.26,376.51 482.19,367.21 483.12,361.63 484.05,357.91 484.98,354.19 485.91,352.33 486.84,356.05 487.77,357.91 488.7,354.19 489.63,352.33 490.56,357.91 491.49,367.21 492.42,376.51 493.35,383.95 494.28,385.81 495.21,387.67 496.14,389.53 497.07,393.26 498,395.12 498.93,389.53 499.86,380.23 500.79,370.93 501.72,363.49 502.65,357.91 503.58,352.33 504.51,350.47 505.44,348.6 506.37,346.74 507.3,343.95 508.23,357.91 508.8,380.99 509.55,401.13 510.31,383.51 511.06,370.92 511.82,368.41 512.57,365.89 513.33,373.44 514.08,368.41 514.84,358.34 515.59,353.31 516.35,345.75 517.1,348.27 517.86,353.31 518.61,358.34 519.37,365.89 520.12,370.92 520.88,373.44 521.63,365.89 522.39,358.34 523.14,350.79 523.9,345.75 524.65,348.27 525.41,353.31 526.16,350.79 526.92,348.27 527.67,350.79 528.43,353.31 529.18,355.82 529.94,350.79 530.69,348.27 531.45,353.31 532.2,355.82 532.96,350.79 533.71,348.27 534.47,345.75 535.22,348.27 535.98,350.79 536.73,345.75 537.49,343.24 538.24,338.2 539,335.69 539.2,333.17" fill="none" stroke="#10e810" stroke-width="1.6" stroke-linejoin="round"/><polyline points="316.5,383.51 316.51,370.92 317.27,358.34 318.02,365.89 318.78,345.75 319.53,335.69 320.29,345.75 321.04,338.2 321.8,358.34 322.55,370.92 323.31,363.37 324.06,345.75 324.82,330.65 325.57,328.14 326.33,338.2 327.08,353.31 327.84,363.37 328.59,353.31 329.35,345.75 330.1,340.72 330.86,333.17 331.61,328.14 332.62,323.1 333.63,323.1 334.63,325.62 335.64,330.65 336.65,335.69 337.65,333.17 338.66,335.69 339.67,338.2 340.67,340.72 341.68,335.69 342.69,333.17 343.69,335.69 344.7,334.43 345.71,335.69 346.71,333.17 347.72,330.65 348.73,335.69 349.73,338.2 350.74,335.69 351.75,340.72 352.75,345.75 353.51,353.31 354.27,350.79 355.27,348.27 356.28,350.79 357.29,355.82 358.04,358.34 358.8,354.56 359.55,350.79 360.31,345.75 361.31,343.24 362.32,353.31 363.07,378.48 363.83,383.51 364.58,370.92 365.34,345.75 366.09,333.17 366.85,328.14 367.86,323.1 368.49,325.3 369.12,328.14 370.12,325.62 370.29,328.14 371.04,323.1 371.8,318.07 372.55,315.55 373.31,320.58 374.06,328.14 374.82,333.17 375.57,330.65 376.33,328.14 377.08,325.62 377.84,329.39 378.59,328.14 379.35,323.1 380.1,325.62 380.86,330.65 381.61,328.14 382.37,323.1 383.12,325.62 383.88,323.1 384.63,326.88 385.39,330.65 386.14,325.62 386.9,323.1 387.65,325.62 388.41,329.39 389.16,335.69 389.92,328.14 390.67,333.17 391.43,338.2 392.18,345.75 392.94,340.72 393.69,335.69 394.45,330.65 395.2,333.17 395.96,335.69 396.71,330.65 397.47,328.14 398.22,333.17 398.98,338.2 399.73,335.69 400.49,333.17 401.24,330.65 402,333.17 402.75,335.69 403.51,333.17 404.27,330.65 405.02,333.17 405.78,335.69 406.53,331.91 407.29,333.17 408.04,335.69 408.8,333.17 409.55,334.43 410.31,335.69 411.06,340.72 411.82,358.34 412.57,378.48 413.33,386.03 414.08,380.99 414.84,375.96 415.59,368.41 416.35,358.34 417.1,343.24 417.86,333.17 418.61,330.65 419.37,333.25 420.12,335.69 420.29,333.17 421.04,335.69 421.8,338.2 422.55,333.17 423.31,335.69 424.06,338.2 424.82,335.69 425.57,333.17 426.33,338.2 427.08,340.72 427.84,338.2 428.59,335.69 429.35,333.17 430.1,330.65 430.86,331.91 431.61,329.39 432.37,333.17 433.12,335.69 433.88,340.72 434.63,343.24 435.39,345.75 436.14,344.5 436.9,345.75 437.65,343.24 438.41,345.75 439.16,344.5 439.92,343.24 440.67,340.72 441.43,338.2 442.18,335.69 442.94,333.17 443.69,338.2 444.45,343.24 445.2,335.69 445.96,333.17 446.71,335.69 447.47,338.2 448.22,343.24 448.98,345.75 449.73,340.72 450.49,335.69 451.24,333.17 452,335.69 452.75,340.72 453.51,338.2 454.27,335.69 455.02,333.17 455.78,338.2 456.53,343.24 457.29,348.27 458.04,345.75 458.8,343.24 459.55,350.79 460.31,363.37 461.06,383.51 461.35,357.91 462.09,348.6 462.84,352.33 463.58,357.91 464.51,348.6 465.44,341.16 466.37,343.02 467.3,344.88 468.23,342.09 469.16,343.02 470.09,346.74 471.02,348.6 471.95,354.19 472.88,350.47 473.81,348.6 474.74,352.33 475.67,356.05 476.6,357.91 477.53,363.49 478.47,367.21 479.4,361.63 480.33,359.77 481.26,357.91 482.19,354.19 483.12,352.33 484.05,348.6 484.98,350.47 485.91,354.19 486.84,352.33 487.77,348.6 488.7,352.33 489.63,348.6 490.56,344.88 491.49,352.33 492.42,367.21 493.35,374.65 494.28,376.51 495.21,372.79 496.14,378.37 497.07,385.81 498,382.09 498.93,374.65 499.86,367.21 500.79,365.35 501.72,367.21 502.65,366.28 503.58,365.35 504.51,363.49 505.44,361.63 506.37,362.56 507.3,367.21 508.23,374.65 508.8,373.44 509.55,383.51 510.31,375.96 511.06,368.41 511.82,370.92 512.57,363.37 513.33,358.34 514.08,360.86 514.84,353.31 515.59,345.75 516.35,338.2 517.1,335.69 517.86,338.2 518.61,340.72 519.37,345.75 520.12,350.79 520.88,355.82 521.63,353.31 522.39,345.75 523.14,338.2 523.9,335.69 524.65,340.72 525.41,345.75 526.16,340.72 526.92,338.2 527.67,343.24 528.43,345.75 529.18,343.24 529.94,340.72 530.69,343.24 531.45,338.2 532.2,335.69 532.96,338.2 533.71,335.69 534.47,333.17 535.22,335.69 535.98,338.2 536.73,335.69 537.49,338.2 538.24,335.69 539,338.2 539.2,339.46" fill="none" stroke="#ff0a0a" stroke-width="1.6" stroke-linejoin="round"/><rect x="316.2" y="308.5" width="223.3" height="111.8" fill="none" stroke="#6a6a6a" stroke-width="1"/><line x1="313.6" y1="420.3" x2="316.2" y2="420.3" stroke="#9a9a9a" stroke-width="0.75"/><line x1="311" y1="414.98" x2="316.2" y2="414.98" stroke="#808080" stroke-width="1.0"/><line x1="313.6" y1="409.65" x2="316.2" y2="409.65" stroke="#9a9a9a" stroke-width="0.75"/><line x1="313.6" y1="404.33" x2="316.2" y2="404.33" stroke="#9a9a9a" stroke-width="0.75"/><line x1="313.6" y1="399" x2="316.2" y2="399" stroke="#9a9a9a" stroke-width="0.75"/><line x1="311" y1="393.68" x2="316.2" y2="393.68" stroke="#808080" stroke-width="1.0"/><line x1="313.6" y1="388.36" x2="316.2" y2="388.36" stroke="#9a9a9a" stroke-width="0.75"/><line x1="313.6" y1="383.03" x2="316.2" y2="383.03" stroke="#9a9a9a" stroke-width="0.75"/><line x1="313.6" y1="377.71" x2="316.2" y2="377.71" stroke="#9a9a9a" stroke-width="0.75"/><line x1="311" y1="372.39" x2="316.2" y2="372.39" stroke="#808080" stroke-width="1.0"/><line x1="313.6" y1="367.06" x2="316.2" y2="367.06" stroke="#9a9a9a" stroke-width="0.75"/><line x1="313.6" y1="361.74" x2="316.2" y2="361.74" stroke="#9a9a9a" stroke-width="0.75"/><line x1="313.6" y1="356.41" x2="316.2" y2="356.41" stroke="#9a9a9a" stroke-width="0.75"/><line x1="311" y1="351.09" x2="316.2" y2="351.09" stroke="#808080" stroke-width="1.0"/><line x1="313.6" y1="345.77" x2="316.2" y2="345.77" stroke="#9a9a9a" stroke-width="0.75"/><line x1="313.6" y1="340.44" x2="316.2" y2="340.44" stroke="#9a9a9a" stroke-width="0.75"/><line x1="313.6" y1="335.12" x2="316.2" y2="335.12" stroke="#9a9a9a" stroke-width="0.75"/><line x1="311" y1="329.8" x2="316.2" y2="329.8" stroke="#808080" stroke-width="1.0"/><line x1="313.6" y1="324.47" x2="316.2" y2="324.47" stroke="#9a9a9a" stroke-width="0.75"/><line x1="313.6" y1="319.15" x2="316.2" y2="319.15" stroke="#9a9a9a" stroke-width="0.75"/><line x1="313.6" y1="313.82" x2="316.2" y2="313.82" stroke="#9a9a9a" stroke-width="0.75"/><line x1="311" y1="308.5" x2="316.2" y2="308.5" stroke="#808080" stroke-width="1.0"/><text x="305.6" y="417.78" text-anchor="end" font-size="7.8">0.0</text><text x="305.6" y="396.48" text-anchor="end" font-size="7.8">0.2</text><text x="305.6" y="375.19" text-anchor="end" font-size="7.8">0.4</text><text x="305.6" y="353.89" text-anchor="end" font-size="7.8">0.6</text><text x="305.6" y="332.6" text-anchor="end" font-size="7.8">0.8</text><text x="305.6" y="311.3" text-anchor="end" font-size="7.8">1.0</text><line x1="539.5" y1="420.3" x2="539.5" y2="425.8" stroke="#6a6a6a" stroke-width="1"/><line x1="331.8" y1="417" x2="331.8" y2="420.3" stroke="#808080" stroke-width="0.9"/><line x1="379.8" y1="417" x2="379.8" y2="420.3" stroke="#808080" stroke-width="0.9"/><line x1="427.8" y1="417" x2="427.8" y2="420.3" stroke="#808080" stroke-width="0.9"/><line x1="476.2" y1="417" x2="476.2" y2="420.3" stroke="#808080" stroke-width="0.9"/><line x1="524.5" y1="417" x2="524.5" y2="420.3" stroke="#808080" stroke-width="0.9"/><line x1="347.4" y1="417" x2="347.4" y2="420.3" stroke="#808080" stroke-width="0.9"/><line x1="395.6" y1="417" x2="395.6" y2="420.3" stroke="#808080" stroke-width="0.9"/><line x1="444.1" y1="417" x2="444.1" y2="420.3" stroke="#808080" stroke-width="0.9"/><line x1="492" y1="417" x2="492" y2="420.3" stroke="#808080" stroke-width="0.9"/><text x="315.8" y="428.9" text-anchor="middle" font-size="5.9">11</text><text x="332.1" y="428.9" text-anchor="middle" font-size="5.9">12</text><text x="347.7" y="428.9" text-anchor="middle" font-size="5.9">01</text><text x="364.3" y="428.9" text-anchor="middle" font-size="5.9">11</text><text x="380.1" y="428.9" text-anchor="middle" font-size="5.9">12</text><text x="395.9" y="428.9" text-anchor="middle" font-size="5.9">01</text><text x="412.5" y="428.9" text-anchor="middle" font-size="5.9">11</text><text x="428.1" y="428.9" text-anchor="middle" font-size="5.9">12</text><text x="444.4" y="428.9" text-anchor="middle" font-size="5.9">01</text><text x="461.5" y="428.9" text-anchor="middle" font-size="5.9">11</text><text x="476.5" y="428.9" text-anchor="middle" font-size="5.9">12</text><text x="492.3" y="428.9" text-anchor="middle" font-size="5.9">01</text><text x="509.6" y="428.9" text-anchor="middle" font-size="5.9">11</text><text x="524.8" y="428.9" text-anchor="middle" font-size="5.9">12</text><text x="539.8" y="428.9" text-anchor="middle" font-size="5.9">01</text><text x="315.5" y="437" text-anchor="middle" font-size="8.1">2015</text><text x="347.4" y="437" text-anchor="middle" font-size="8.1">2016</text><text x="395.6" y="437" text-anchor="middle" font-size="8.1">2017</text><text x="444.1" y="437" text-anchor="middle" font-size="8.1">2018</text><text x="492" y="437" text-anchor="middle" font-size="8.1">2019</text><text x="539.5" y="437" text-anchor="middle" font-size="8.1">2020</text><text transform="translate(288.7,364.4) rotate(-90)" text-anchor="middle" font-size="10">TS</text><text x="315.9" y="305.9" font-size="8.6">(f)</text><line x1="346.3" y1="302.9" x2="364.5" y2="302.9" stroke="#0a0aff" stroke-width="1.1"/><text x="365.9" y="305.8" font-size="7.8">CLM3.5</text><line x1="414.7" y1="302.9" x2="432.9" y2="302.9" stroke="#10e810" stroke-width="1.1"/><text x="434.3" y="305.8" font-size="7.8">Noah</text><line x1="473.2" y1="302.9" x2="491.4" y2="302.9" stroke="#ff0a0a" stroke-width="1.1"/><text x="492.8" y="305.8" font-size="7.8">Noah-MP</text></g>
</svg>
</body></html>
